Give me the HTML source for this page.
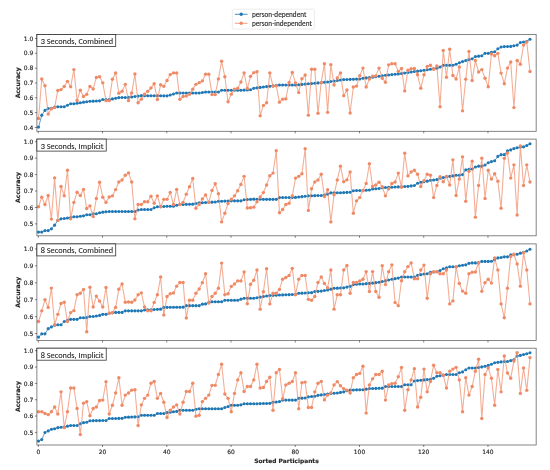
<!DOCTYPE html><html><head><meta charset="utf-8"><style>html,body{margin:0;padding:0;background:#fff;}svg{display:block;filter:blur(0.3px)}text{font-family:'DejaVu Sans', 'Liberation Sans', sans-serif;fill:#262626;stroke:#262626;stroke-width:0.15px}</style></head><body>
<svg width="550" height="470" viewBox="0 0 550 470">
<rect width="550" height="470" fill="#fff"/>
<clipPath id="c0"><rect x="36.89" y="34.4" width="499.27" height="96.9"/></clipPath>
<g clip-path="url(#c0)"><polyline points="38.55,127.11 41.76,115.17 44.97,110.41 48.19,108.46 51.4,108.23 54.61,107.15 57.82,106.72 61.03,106.72 64.25,106.72 67.46,105.19 70.67,103.68 73.88,103.68 77.09,103.25 80.31,102.82 83.52,102.17 86.73,101.72 89.94,101.29 93.15,101.15 96.37,101.01 99.58,100.86 102.79,99.56 106,99.56 109.21,99.56 112.43,98.91 115.64,98.25 118.85,97.6 122.06,97.54 125.27,97.47 128.49,97.39 131.7,96.96 134.91,96.52 138.12,96.09 141.33,95.66 144.55,95.66 147.76,95.69 150.97,95.72 154.18,95.75 157.39,95.78 160.61,95.81 163.82,95.84 167.03,95.87 170.24,94.93 173.45,94 176.67,93.05 179.88,93.05 183.09,93.05 186.3,93.05 189.51,93.05 192.73,93.05 195.94,93.05 199.15,93.05 202.36,92.51 205.57,91.97 208.79,91.97 212,91.97 215.21,91.97 218.42,91.97 221.63,90.23 224.85,90.23 228.06,90.23 231.27,90.23 234.48,90.23 237.69,90.23 240.91,90.23 244.12,90.08 247.33,89.93 250.54,89.8 253.75,88.27 256.97,87.84 260.18,87.41 263.39,86.98 266.6,86.58 269.81,86.2 273.03,85.81 276.24,85.41 279.45,85.03 282.66,85.03 285.87,85.03 289.09,85.03 292.3,85.03 295.51,85.03 298.72,84.71 301.93,84.42 305.15,84.11 308.36,83.81 311.57,83.5 314.78,83.22 317.99,82.92 321.21,82.64 324.42,82.31 327.63,81.98 330.84,81.48 334.05,80.98 337.27,80.47 340.48,80.03 343.69,79.6 346.9,79.46 350.11,79.35 353.33,79.21 356.54,79.08 359.75,78.94 362.96,78.29 366.17,77.92 369.39,77.54 372.6,77.17 375.81,76.78 379.02,76.28 382.23,75.77 385.45,75.25 388.66,74.94 391.87,74.61 395.08,74.24 398.29,73.89 401.51,73.52 404.72,73.01 407.93,72.51 411.14,72 414.35,71.57 417.57,71.14 420.78,70.7 423.99,70.27 427.2,69.78 430.41,69.29 433.63,68.8 436.84,68.31 440.05,67.02 443.26,65.27 446.47,65.27 449.69,65.27 452.9,65.27 456.11,64.19 459.32,62.68 462.53,61.59 465.75,60.51 468.96,59.64 472.17,58.78 475.38,56.6 478.59,56.17 481.81,55.74 485.02,53.35 488.23,53.35 491.44,52.27 494.65,51.82 497.87,48.8 501.08,47.06 504.29,46.62 507.5,46.51 510.71,46.41 513.93,45.76 517.14,45.1 520.35,42.49 523.56,42.06 526.77,41.41 529.99,39.24" fill="none" stroke="#1f77b4" stroke-width="1.0" stroke-opacity="0.7" stroke-linejoin="round"/>
<circle cx="38.55" cy="127.11" r="1.55" fill="#1f77b4"/>
<circle cx="41.76" cy="115.17" r="1.55" fill="#1f77b4"/>
<circle cx="44.97" cy="110.41" r="1.55" fill="#1f77b4"/>
<circle cx="48.19" cy="108.46" r="1.55" fill="#1f77b4"/>
<circle cx="51.4" cy="108.23" r="1.55" fill="#1f77b4"/>
<circle cx="54.61" cy="107.15" r="1.55" fill="#1f77b4"/>
<circle cx="57.82" cy="106.72" r="1.55" fill="#1f77b4"/>
<circle cx="61.03" cy="106.72" r="1.55" fill="#1f77b4"/>
<circle cx="64.25" cy="106.72" r="1.55" fill="#1f77b4"/>
<circle cx="67.46" cy="105.19" r="1.55" fill="#1f77b4"/>
<circle cx="70.67" cy="103.68" r="1.55" fill="#1f77b4"/>
<circle cx="73.88" cy="103.68" r="1.55" fill="#1f77b4"/>
<circle cx="77.09" cy="103.25" r="1.55" fill="#1f77b4"/>
<circle cx="80.31" cy="102.82" r="1.55" fill="#1f77b4"/>
<circle cx="83.52" cy="102.17" r="1.55" fill="#1f77b4"/>
<circle cx="86.73" cy="101.72" r="1.55" fill="#1f77b4"/>
<circle cx="89.94" cy="101.29" r="1.55" fill="#1f77b4"/>
<circle cx="93.15" cy="101.15" r="1.55" fill="#1f77b4"/>
<circle cx="96.37" cy="101.01" r="1.55" fill="#1f77b4"/>
<circle cx="99.58" cy="100.86" r="1.55" fill="#1f77b4"/>
<circle cx="102.79" cy="99.56" r="1.55" fill="#1f77b4"/>
<circle cx="106" cy="99.56" r="1.55" fill="#1f77b4"/>
<circle cx="109.21" cy="99.56" r="1.55" fill="#1f77b4"/>
<circle cx="112.43" cy="98.91" r="1.55" fill="#1f77b4"/>
<circle cx="115.64" cy="98.25" r="1.55" fill="#1f77b4"/>
<circle cx="118.85" cy="97.6" r="1.55" fill="#1f77b4"/>
<circle cx="122.06" cy="97.54" r="1.55" fill="#1f77b4"/>
<circle cx="125.27" cy="97.47" r="1.55" fill="#1f77b4"/>
<circle cx="128.49" cy="97.39" r="1.55" fill="#1f77b4"/>
<circle cx="131.7" cy="96.96" r="1.55" fill="#1f77b4"/>
<circle cx="134.91" cy="96.52" r="1.55" fill="#1f77b4"/>
<circle cx="138.12" cy="96.09" r="1.55" fill="#1f77b4"/>
<circle cx="141.33" cy="95.66" r="1.55" fill="#1f77b4"/>
<circle cx="144.55" cy="95.66" r="1.55" fill="#1f77b4"/>
<circle cx="147.76" cy="95.69" r="1.55" fill="#1f77b4"/>
<circle cx="150.97" cy="95.72" r="1.55" fill="#1f77b4"/>
<circle cx="154.18" cy="95.75" r="1.55" fill="#1f77b4"/>
<circle cx="157.39" cy="95.78" r="1.55" fill="#1f77b4"/>
<circle cx="160.61" cy="95.81" r="1.55" fill="#1f77b4"/>
<circle cx="163.82" cy="95.84" r="1.55" fill="#1f77b4"/>
<circle cx="167.03" cy="95.87" r="1.55" fill="#1f77b4"/>
<circle cx="170.24" cy="94.93" r="1.55" fill="#1f77b4"/>
<circle cx="173.45" cy="94" r="1.55" fill="#1f77b4"/>
<circle cx="176.67" cy="93.05" r="1.55" fill="#1f77b4"/>
<circle cx="179.88" cy="93.05" r="1.55" fill="#1f77b4"/>
<circle cx="183.09" cy="93.05" r="1.55" fill="#1f77b4"/>
<circle cx="186.3" cy="93.05" r="1.55" fill="#1f77b4"/>
<circle cx="189.51" cy="93.05" r="1.55" fill="#1f77b4"/>
<circle cx="192.73" cy="93.05" r="1.55" fill="#1f77b4"/>
<circle cx="195.94" cy="93.05" r="1.55" fill="#1f77b4"/>
<circle cx="199.15" cy="93.05" r="1.55" fill="#1f77b4"/>
<circle cx="202.36" cy="92.51" r="1.55" fill="#1f77b4"/>
<circle cx="205.57" cy="91.97" r="1.55" fill="#1f77b4"/>
<circle cx="208.79" cy="91.97" r="1.55" fill="#1f77b4"/>
<circle cx="212" cy="91.97" r="1.55" fill="#1f77b4"/>
<circle cx="215.21" cy="91.97" r="1.55" fill="#1f77b4"/>
<circle cx="218.42" cy="91.97" r="1.55" fill="#1f77b4"/>
<circle cx="221.63" cy="90.23" r="1.55" fill="#1f77b4"/>
<circle cx="224.85" cy="90.23" r="1.55" fill="#1f77b4"/>
<circle cx="228.06" cy="90.23" r="1.55" fill="#1f77b4"/>
<circle cx="231.27" cy="90.23" r="1.55" fill="#1f77b4"/>
<circle cx="234.48" cy="90.23" r="1.55" fill="#1f77b4"/>
<circle cx="237.69" cy="90.23" r="1.55" fill="#1f77b4"/>
<circle cx="240.91" cy="90.23" r="1.55" fill="#1f77b4"/>
<circle cx="244.12" cy="90.08" r="1.55" fill="#1f77b4"/>
<circle cx="247.33" cy="89.93" r="1.55" fill="#1f77b4"/>
<circle cx="250.54" cy="89.8" r="1.55" fill="#1f77b4"/>
<circle cx="253.75" cy="88.27" r="1.55" fill="#1f77b4"/>
<circle cx="256.97" cy="87.84" r="1.55" fill="#1f77b4"/>
<circle cx="260.18" cy="87.41" r="1.55" fill="#1f77b4"/>
<circle cx="263.39" cy="86.98" r="1.55" fill="#1f77b4"/>
<circle cx="266.6" cy="86.58" r="1.55" fill="#1f77b4"/>
<circle cx="269.81" cy="86.2" r="1.55" fill="#1f77b4"/>
<circle cx="273.03" cy="85.81" r="1.55" fill="#1f77b4"/>
<circle cx="276.24" cy="85.41" r="1.55" fill="#1f77b4"/>
<circle cx="279.45" cy="85.03" r="1.55" fill="#1f77b4"/>
<circle cx="282.66" cy="85.03" r="1.55" fill="#1f77b4"/>
<circle cx="285.87" cy="85.03" r="1.55" fill="#1f77b4"/>
<circle cx="289.09" cy="85.03" r="1.55" fill="#1f77b4"/>
<circle cx="292.3" cy="85.03" r="1.55" fill="#1f77b4"/>
<circle cx="295.51" cy="85.03" r="1.55" fill="#1f77b4"/>
<circle cx="298.72" cy="84.71" r="1.55" fill="#1f77b4"/>
<circle cx="301.93" cy="84.42" r="1.55" fill="#1f77b4"/>
<circle cx="305.15" cy="84.11" r="1.55" fill="#1f77b4"/>
<circle cx="308.36" cy="83.81" r="1.55" fill="#1f77b4"/>
<circle cx="311.57" cy="83.5" r="1.55" fill="#1f77b4"/>
<circle cx="314.78" cy="83.22" r="1.55" fill="#1f77b4"/>
<circle cx="317.99" cy="82.92" r="1.55" fill="#1f77b4"/>
<circle cx="321.21" cy="82.64" r="1.55" fill="#1f77b4"/>
<circle cx="324.42" cy="82.31" r="1.55" fill="#1f77b4"/>
<circle cx="327.63" cy="81.98" r="1.55" fill="#1f77b4"/>
<circle cx="330.84" cy="81.48" r="1.55" fill="#1f77b4"/>
<circle cx="334.05" cy="80.98" r="1.55" fill="#1f77b4"/>
<circle cx="337.27" cy="80.47" r="1.55" fill="#1f77b4"/>
<circle cx="340.48" cy="80.03" r="1.55" fill="#1f77b4"/>
<circle cx="343.69" cy="79.6" r="1.55" fill="#1f77b4"/>
<circle cx="346.9" cy="79.46" r="1.55" fill="#1f77b4"/>
<circle cx="350.11" cy="79.35" r="1.55" fill="#1f77b4"/>
<circle cx="353.33" cy="79.21" r="1.55" fill="#1f77b4"/>
<circle cx="356.54" cy="79.08" r="1.55" fill="#1f77b4"/>
<circle cx="359.75" cy="78.94" r="1.55" fill="#1f77b4"/>
<circle cx="362.96" cy="78.29" r="1.55" fill="#1f77b4"/>
<circle cx="366.17" cy="77.92" r="1.55" fill="#1f77b4"/>
<circle cx="369.39" cy="77.54" r="1.55" fill="#1f77b4"/>
<circle cx="372.6" cy="77.17" r="1.55" fill="#1f77b4"/>
<circle cx="375.81" cy="76.78" r="1.55" fill="#1f77b4"/>
<circle cx="379.02" cy="76.28" r="1.55" fill="#1f77b4"/>
<circle cx="382.23" cy="75.77" r="1.55" fill="#1f77b4"/>
<circle cx="385.45" cy="75.25" r="1.55" fill="#1f77b4"/>
<circle cx="388.66" cy="74.94" r="1.55" fill="#1f77b4"/>
<circle cx="391.87" cy="74.61" r="1.55" fill="#1f77b4"/>
<circle cx="395.08" cy="74.24" r="1.55" fill="#1f77b4"/>
<circle cx="398.29" cy="73.89" r="1.55" fill="#1f77b4"/>
<circle cx="401.51" cy="73.52" r="1.55" fill="#1f77b4"/>
<circle cx="404.72" cy="73.01" r="1.55" fill="#1f77b4"/>
<circle cx="407.93" cy="72.51" r="1.55" fill="#1f77b4"/>
<circle cx="411.14" cy="72" r="1.55" fill="#1f77b4"/>
<circle cx="414.35" cy="71.57" r="1.55" fill="#1f77b4"/>
<circle cx="417.57" cy="71.14" r="1.55" fill="#1f77b4"/>
<circle cx="420.78" cy="70.7" r="1.55" fill="#1f77b4"/>
<circle cx="423.99" cy="70.27" r="1.55" fill="#1f77b4"/>
<circle cx="427.2" cy="69.78" r="1.55" fill="#1f77b4"/>
<circle cx="430.41" cy="69.29" r="1.55" fill="#1f77b4"/>
<circle cx="433.63" cy="68.8" r="1.55" fill="#1f77b4"/>
<circle cx="436.84" cy="68.31" r="1.55" fill="#1f77b4"/>
<circle cx="440.05" cy="67.02" r="1.55" fill="#1f77b4"/>
<circle cx="443.26" cy="65.27" r="1.55" fill="#1f77b4"/>
<circle cx="446.47" cy="65.27" r="1.55" fill="#1f77b4"/>
<circle cx="449.69" cy="65.27" r="1.55" fill="#1f77b4"/>
<circle cx="452.9" cy="65.27" r="1.55" fill="#1f77b4"/>
<circle cx="456.11" cy="64.19" r="1.55" fill="#1f77b4"/>
<circle cx="459.32" cy="62.68" r="1.55" fill="#1f77b4"/>
<circle cx="462.53" cy="61.59" r="1.55" fill="#1f77b4"/>
<circle cx="465.75" cy="60.51" r="1.55" fill="#1f77b4"/>
<circle cx="468.96" cy="59.64" r="1.55" fill="#1f77b4"/>
<circle cx="472.17" cy="58.78" r="1.55" fill="#1f77b4"/>
<circle cx="475.38" cy="56.6" r="1.55" fill="#1f77b4"/>
<circle cx="478.59" cy="56.17" r="1.55" fill="#1f77b4"/>
<circle cx="481.81" cy="55.74" r="1.55" fill="#1f77b4"/>
<circle cx="485.02" cy="53.35" r="1.55" fill="#1f77b4"/>
<circle cx="488.23" cy="53.35" r="1.55" fill="#1f77b4"/>
<circle cx="491.44" cy="52.27" r="1.55" fill="#1f77b4"/>
<circle cx="494.65" cy="51.82" r="1.55" fill="#1f77b4"/>
<circle cx="497.87" cy="48.8" r="1.55" fill="#1f77b4"/>
<circle cx="501.08" cy="47.06" r="1.55" fill="#1f77b4"/>
<circle cx="504.29" cy="46.62" r="1.55" fill="#1f77b4"/>
<circle cx="507.5" cy="46.51" r="1.55" fill="#1f77b4"/>
<circle cx="510.71" cy="46.41" r="1.55" fill="#1f77b4"/>
<circle cx="513.93" cy="45.76" r="1.55" fill="#1f77b4"/>
<circle cx="517.14" cy="45.1" r="1.55" fill="#1f77b4"/>
<circle cx="520.35" cy="42.49" r="1.55" fill="#1f77b4"/>
<circle cx="523.56" cy="42.06" r="1.55" fill="#1f77b4"/>
<circle cx="526.77" cy="41.41" r="1.55" fill="#1f77b4"/>
<circle cx="529.99" cy="39.24" r="1.55" fill="#1f77b4"/>
</g>
<g clip-path="url(#c0)"><polyline points="38.55,118.44 41.76,78.94 44.97,85.68 48.19,114.09 51.4,108.68 54.61,107.37 57.82,90.45 61.03,89.58 64.25,86.54 67.46,81.33 70.67,86.76 73.88,69.62 77.09,100.43 80.31,90.23 83.52,96.52 86.73,94.35 89.94,86.54 93.15,88.93 96.37,77.43 99.58,76.78 102.79,82.86 106,100.64 109.21,100.64 112.43,79.17 115.64,72.88 118.85,93.27 122.06,91.31 125.27,84.37 128.49,100.64 131.7,93.05 134.91,73.96 138.12,102.82 141.33,99.13 144.55,94.13 147.76,91.31 150.97,88.07 154.18,83.72 157.39,99.56 160.61,84.8 163.82,86.33 167.03,80.47 170.24,74.61 173.45,72.88 176.67,72.88 179.88,99.34 183.09,96.52 186.3,96.09 189.51,94.35 192.73,89.15 195.94,84.37 199.15,82.64 202.36,80.9 205.57,74.17 208.79,74.17 212,94.58 215.21,94.58 218.42,78.94 221.63,61.16 224.85,76.78 228.06,101.72 231.27,94.13 234.48,89.15 237.69,88.27 240.91,81.98 244.12,72.88 247.33,88.5 250.54,76.35 253.75,72.66 256.97,71.78 260.18,115.83 263.39,105.42 266.6,102.82 269.81,72.88 273.03,86.33 276.24,85.68 279.45,102.17 282.66,99.13 285.87,98.91 289.09,82.42 292.3,72.43 295.51,82.86 298.72,92.62 301.93,78.74 305.15,75.04 308.36,115.17 311.57,69.19 314.78,69.19 317.99,113.23 321.21,82.42 324.42,63.76 327.63,112.36 330.84,64.63 334.05,85.03 337.27,77.86 340.48,72.88 343.69,95.66 346.9,90.01 350.11,113.01 353.33,86.98 356.54,86.11 359.75,75.7 362.96,68.1 366.17,86.98 369.39,78.94 372.6,76.13 375.81,75.9 379.02,68.1 382.23,78.29 385.45,82.21 388.66,64.84 391.87,63.76 395.08,63.76 398.29,71.35 401.51,68.53 404.72,90.88 407.93,70.27 411.14,68.76 414.35,68.53 417.57,74.82 420.78,88.27 423.99,74.82 427.2,66.37 430.41,65.27 433.63,69.19 436.84,65.92 440.05,106.72 443.26,50.53 446.47,77.21 449.69,49.23 452.9,75.47 456.11,78.94 459.32,67.02 462.53,110.84 465.75,79.17 468.96,51.39 472.17,80.47 475.38,60.51 478.59,72 481.81,69.62 485.02,78.29 488.23,86.76 491.44,54 494.65,55.74 497.87,53.35 501.08,73.09 504.29,83.72 507.5,68.1 510.71,62.02 513.93,107.58 517.14,60.51 520.35,64.19 523.56,45.1 526.77,42.06 529.99,71.57" fill="none" stroke="#ef8a66" stroke-width="1.1" stroke-opacity="0.7" stroke-linejoin="round"/>
<circle cx="38.55" cy="118.44" r="1.7" fill="#ef8a66"/>
<circle cx="41.76" cy="78.94" r="1.7" fill="#ef8a66"/>
<circle cx="44.97" cy="85.68" r="1.7" fill="#ef8a66"/>
<circle cx="48.19" cy="114.09" r="1.7" fill="#ef8a66"/>
<circle cx="51.4" cy="108.68" r="1.7" fill="#ef8a66"/>
<circle cx="54.61" cy="107.37" r="1.7" fill="#ef8a66"/>
<circle cx="57.82" cy="90.45" r="1.7" fill="#ef8a66"/>
<circle cx="61.03" cy="89.58" r="1.7" fill="#ef8a66"/>
<circle cx="64.25" cy="86.54" r="1.7" fill="#ef8a66"/>
<circle cx="67.46" cy="81.33" r="1.7" fill="#ef8a66"/>
<circle cx="70.67" cy="86.76" r="1.7" fill="#ef8a66"/>
<circle cx="73.88" cy="69.62" r="1.7" fill="#ef8a66"/>
<circle cx="77.09" cy="100.43" r="1.7" fill="#ef8a66"/>
<circle cx="80.31" cy="90.23" r="1.7" fill="#ef8a66"/>
<circle cx="83.52" cy="96.52" r="1.7" fill="#ef8a66"/>
<circle cx="86.73" cy="94.35" r="1.7" fill="#ef8a66"/>
<circle cx="89.94" cy="86.54" r="1.7" fill="#ef8a66"/>
<circle cx="93.15" cy="88.93" r="1.7" fill="#ef8a66"/>
<circle cx="96.37" cy="77.43" r="1.7" fill="#ef8a66"/>
<circle cx="99.58" cy="76.78" r="1.7" fill="#ef8a66"/>
<circle cx="102.79" cy="82.86" r="1.7" fill="#ef8a66"/>
<circle cx="106" cy="100.64" r="1.7" fill="#ef8a66"/>
<circle cx="109.21" cy="100.64" r="1.7" fill="#ef8a66"/>
<circle cx="112.43" cy="79.17" r="1.7" fill="#ef8a66"/>
<circle cx="115.64" cy="72.88" r="1.7" fill="#ef8a66"/>
<circle cx="118.85" cy="93.27" r="1.7" fill="#ef8a66"/>
<circle cx="122.06" cy="91.31" r="1.7" fill="#ef8a66"/>
<circle cx="125.27" cy="84.37" r="1.7" fill="#ef8a66"/>
<circle cx="128.49" cy="100.64" r="1.7" fill="#ef8a66"/>
<circle cx="131.7" cy="93.05" r="1.7" fill="#ef8a66"/>
<circle cx="134.91" cy="73.96" r="1.7" fill="#ef8a66"/>
<circle cx="138.12" cy="102.82" r="1.7" fill="#ef8a66"/>
<circle cx="141.33" cy="99.13" r="1.7" fill="#ef8a66"/>
<circle cx="144.55" cy="94.13" r="1.7" fill="#ef8a66"/>
<circle cx="147.76" cy="91.31" r="1.7" fill="#ef8a66"/>
<circle cx="150.97" cy="88.07" r="1.7" fill="#ef8a66"/>
<circle cx="154.18" cy="83.72" r="1.7" fill="#ef8a66"/>
<circle cx="157.39" cy="99.56" r="1.7" fill="#ef8a66"/>
<circle cx="160.61" cy="84.8" r="1.7" fill="#ef8a66"/>
<circle cx="163.82" cy="86.33" r="1.7" fill="#ef8a66"/>
<circle cx="167.03" cy="80.47" r="1.7" fill="#ef8a66"/>
<circle cx="170.24" cy="74.61" r="1.7" fill="#ef8a66"/>
<circle cx="173.45" cy="72.88" r="1.7" fill="#ef8a66"/>
<circle cx="176.67" cy="72.88" r="1.7" fill="#ef8a66"/>
<circle cx="179.88" cy="99.34" r="1.7" fill="#ef8a66"/>
<circle cx="183.09" cy="96.52" r="1.7" fill="#ef8a66"/>
<circle cx="186.3" cy="96.09" r="1.7" fill="#ef8a66"/>
<circle cx="189.51" cy="94.35" r="1.7" fill="#ef8a66"/>
<circle cx="192.73" cy="89.15" r="1.7" fill="#ef8a66"/>
<circle cx="195.94" cy="84.37" r="1.7" fill="#ef8a66"/>
<circle cx="199.15" cy="82.64" r="1.7" fill="#ef8a66"/>
<circle cx="202.36" cy="80.9" r="1.7" fill="#ef8a66"/>
<circle cx="205.57" cy="74.17" r="1.7" fill="#ef8a66"/>
<circle cx="208.79" cy="74.17" r="1.7" fill="#ef8a66"/>
<circle cx="212" cy="94.58" r="1.7" fill="#ef8a66"/>
<circle cx="215.21" cy="94.58" r="1.7" fill="#ef8a66"/>
<circle cx="218.42" cy="78.94" r="1.7" fill="#ef8a66"/>
<circle cx="221.63" cy="61.16" r="1.7" fill="#ef8a66"/>
<circle cx="224.85" cy="76.78" r="1.7" fill="#ef8a66"/>
<circle cx="228.06" cy="101.72" r="1.7" fill="#ef8a66"/>
<circle cx="231.27" cy="94.13" r="1.7" fill="#ef8a66"/>
<circle cx="234.48" cy="89.15" r="1.7" fill="#ef8a66"/>
<circle cx="237.69" cy="88.27" r="1.7" fill="#ef8a66"/>
<circle cx="240.91" cy="81.98" r="1.7" fill="#ef8a66"/>
<circle cx="244.12" cy="72.88" r="1.7" fill="#ef8a66"/>
<circle cx="247.33" cy="88.5" r="1.7" fill="#ef8a66"/>
<circle cx="250.54" cy="76.35" r="1.7" fill="#ef8a66"/>
<circle cx="253.75" cy="72.66" r="1.7" fill="#ef8a66"/>
<circle cx="256.97" cy="71.78" r="1.7" fill="#ef8a66"/>
<circle cx="260.18" cy="115.83" r="1.7" fill="#ef8a66"/>
<circle cx="263.39" cy="105.42" r="1.7" fill="#ef8a66"/>
<circle cx="266.6" cy="102.82" r="1.7" fill="#ef8a66"/>
<circle cx="269.81" cy="72.88" r="1.7" fill="#ef8a66"/>
<circle cx="273.03" cy="86.33" r="1.7" fill="#ef8a66"/>
<circle cx="276.24" cy="85.68" r="1.7" fill="#ef8a66"/>
<circle cx="279.45" cy="102.17" r="1.7" fill="#ef8a66"/>
<circle cx="282.66" cy="99.13" r="1.7" fill="#ef8a66"/>
<circle cx="285.87" cy="98.91" r="1.7" fill="#ef8a66"/>
<circle cx="289.09" cy="82.42" r="1.7" fill="#ef8a66"/>
<circle cx="292.3" cy="72.43" r="1.7" fill="#ef8a66"/>
<circle cx="295.51" cy="82.86" r="1.7" fill="#ef8a66"/>
<circle cx="298.72" cy="92.62" r="1.7" fill="#ef8a66"/>
<circle cx="301.93" cy="78.74" r="1.7" fill="#ef8a66"/>
<circle cx="305.15" cy="75.04" r="1.7" fill="#ef8a66"/>
<circle cx="308.36" cy="115.17" r="1.7" fill="#ef8a66"/>
<circle cx="311.57" cy="69.19" r="1.7" fill="#ef8a66"/>
<circle cx="314.78" cy="69.19" r="1.7" fill="#ef8a66"/>
<circle cx="317.99" cy="113.23" r="1.7" fill="#ef8a66"/>
<circle cx="321.21" cy="82.42" r="1.7" fill="#ef8a66"/>
<circle cx="324.42" cy="63.76" r="1.7" fill="#ef8a66"/>
<circle cx="327.63" cy="112.36" r="1.7" fill="#ef8a66"/>
<circle cx="330.84" cy="64.63" r="1.7" fill="#ef8a66"/>
<circle cx="334.05" cy="85.03" r="1.7" fill="#ef8a66"/>
<circle cx="337.27" cy="77.86" r="1.7" fill="#ef8a66"/>
<circle cx="340.48" cy="72.88" r="1.7" fill="#ef8a66"/>
<circle cx="343.69" cy="95.66" r="1.7" fill="#ef8a66"/>
<circle cx="346.9" cy="90.01" r="1.7" fill="#ef8a66"/>
<circle cx="350.11" cy="113.01" r="1.7" fill="#ef8a66"/>
<circle cx="353.33" cy="86.98" r="1.7" fill="#ef8a66"/>
<circle cx="356.54" cy="86.11" r="1.7" fill="#ef8a66"/>
<circle cx="359.75" cy="75.7" r="1.7" fill="#ef8a66"/>
<circle cx="362.96" cy="68.1" r="1.7" fill="#ef8a66"/>
<circle cx="366.17" cy="86.98" r="1.7" fill="#ef8a66"/>
<circle cx="369.39" cy="78.94" r="1.7" fill="#ef8a66"/>
<circle cx="372.6" cy="76.13" r="1.7" fill="#ef8a66"/>
<circle cx="375.81" cy="75.9" r="1.7" fill="#ef8a66"/>
<circle cx="379.02" cy="68.1" r="1.7" fill="#ef8a66"/>
<circle cx="382.23" cy="78.29" r="1.7" fill="#ef8a66"/>
<circle cx="385.45" cy="82.21" r="1.7" fill="#ef8a66"/>
<circle cx="388.66" cy="64.84" r="1.7" fill="#ef8a66"/>
<circle cx="391.87" cy="63.76" r="1.7" fill="#ef8a66"/>
<circle cx="395.08" cy="63.76" r="1.7" fill="#ef8a66"/>
<circle cx="398.29" cy="71.35" r="1.7" fill="#ef8a66"/>
<circle cx="401.51" cy="68.53" r="1.7" fill="#ef8a66"/>
<circle cx="404.72" cy="90.88" r="1.7" fill="#ef8a66"/>
<circle cx="407.93" cy="70.27" r="1.7" fill="#ef8a66"/>
<circle cx="411.14" cy="68.76" r="1.7" fill="#ef8a66"/>
<circle cx="414.35" cy="68.53" r="1.7" fill="#ef8a66"/>
<circle cx="417.57" cy="74.82" r="1.7" fill="#ef8a66"/>
<circle cx="420.78" cy="88.27" r="1.7" fill="#ef8a66"/>
<circle cx="423.99" cy="74.82" r="1.7" fill="#ef8a66"/>
<circle cx="427.2" cy="66.37" r="1.7" fill="#ef8a66"/>
<circle cx="430.41" cy="65.27" r="1.7" fill="#ef8a66"/>
<circle cx="433.63" cy="69.19" r="1.7" fill="#ef8a66"/>
<circle cx="436.84" cy="65.92" r="1.7" fill="#ef8a66"/>
<circle cx="440.05" cy="106.72" r="1.7" fill="#ef8a66"/>
<circle cx="443.26" cy="50.53" r="1.7" fill="#ef8a66"/>
<circle cx="446.47" cy="77.21" r="1.7" fill="#ef8a66"/>
<circle cx="449.69" cy="49.23" r="1.7" fill="#ef8a66"/>
<circle cx="452.9" cy="75.47" r="1.7" fill="#ef8a66"/>
<circle cx="456.11" cy="78.94" r="1.7" fill="#ef8a66"/>
<circle cx="459.32" cy="67.02" r="1.7" fill="#ef8a66"/>
<circle cx="462.53" cy="110.84" r="1.7" fill="#ef8a66"/>
<circle cx="465.75" cy="79.17" r="1.7" fill="#ef8a66"/>
<circle cx="468.96" cy="51.39" r="1.7" fill="#ef8a66"/>
<circle cx="472.17" cy="80.47" r="1.7" fill="#ef8a66"/>
<circle cx="475.38" cy="60.51" r="1.7" fill="#ef8a66"/>
<circle cx="478.59" cy="72" r="1.7" fill="#ef8a66"/>
<circle cx="481.81" cy="69.62" r="1.7" fill="#ef8a66"/>
<circle cx="485.02" cy="78.29" r="1.7" fill="#ef8a66"/>
<circle cx="488.23" cy="86.76" r="1.7" fill="#ef8a66"/>
<circle cx="491.44" cy="54" r="1.7" fill="#ef8a66"/>
<circle cx="494.65" cy="55.74" r="1.7" fill="#ef8a66"/>
<circle cx="497.87" cy="53.35" r="1.7" fill="#ef8a66"/>
<circle cx="501.08" cy="73.09" r="1.7" fill="#ef8a66"/>
<circle cx="504.29" cy="83.72" r="1.7" fill="#ef8a66"/>
<circle cx="507.5" cy="68.1" r="1.7" fill="#ef8a66"/>
<circle cx="510.71" cy="62.02" r="1.7" fill="#ef8a66"/>
<circle cx="513.93" cy="107.58" r="1.7" fill="#ef8a66"/>
<circle cx="517.14" cy="60.51" r="1.7" fill="#ef8a66"/>
<circle cx="520.35" cy="64.19" r="1.7" fill="#ef8a66"/>
<circle cx="523.56" cy="45.1" r="1.7" fill="#ef8a66"/>
<circle cx="526.77" cy="42.06" r="1.7" fill="#ef8a66"/>
<circle cx="529.99" cy="71.57" r="1.7" fill="#ef8a66"/>
</g>
<rect x="36.89" y="34.4" width="499.27" height="96.9" fill="none" stroke="#000" stroke-opacity="0.6" stroke-width="0.8"/>
<line x1="34.89" x2="36.89" y1="127.48" y2="127.48" stroke="#000" stroke-opacity="0.6" stroke-width="0.8"/>
<text x="33.39" y="129.63" font-size="6.0" text-anchor="end">0.4</text>
<line x1="34.89" x2="36.89" y1="112.65" y2="112.65" stroke="#000" stroke-opacity="0.6" stroke-width="0.8"/>
<text x="33.39" y="114.8" font-size="6.0" text-anchor="end">0.5</text>
<line x1="34.89" x2="36.89" y1="97.82" y2="97.82" stroke="#000" stroke-opacity="0.6" stroke-width="0.8"/>
<text x="33.39" y="99.97" font-size="6.0" text-anchor="end">0.6</text>
<line x1="34.89" x2="36.89" y1="82.99" y2="82.99" stroke="#000" stroke-opacity="0.6" stroke-width="0.8"/>
<text x="33.39" y="85.14" font-size="6.0" text-anchor="end">0.7</text>
<line x1="34.89" x2="36.89" y1="68.16" y2="68.16" stroke="#000" stroke-opacity="0.6" stroke-width="0.8"/>
<text x="33.39" y="70.31" font-size="6.0" text-anchor="end">0.8</text>
<line x1="34.89" x2="36.89" y1="53.33" y2="53.33" stroke="#000" stroke-opacity="0.6" stroke-width="0.8"/>
<text x="33.39" y="55.48" font-size="6.0" text-anchor="end">0.9</text>
<line x1="34.89" x2="36.89" y1="38.5" y2="38.5" stroke="#000" stroke-opacity="0.6" stroke-width="0.8"/>
<text x="33.39" y="40.65" font-size="6.0" text-anchor="end">1.0</text>
<line x1="38.3" x2="38.3" y1="131.3" y2="133.3" stroke="#000" stroke-opacity="0.6" stroke-width="0.8"/>
<line x1="102.54" x2="102.54" y1="131.3" y2="133.3" stroke="#000" stroke-opacity="0.6" stroke-width="0.8"/>
<line x1="166.78" x2="166.78" y1="131.3" y2="133.3" stroke="#000" stroke-opacity="0.6" stroke-width="0.8"/>
<line x1="231.02" x2="231.02" y1="131.3" y2="133.3" stroke="#000" stroke-opacity="0.6" stroke-width="0.8"/>
<line x1="295.26" x2="295.26" y1="131.3" y2="133.3" stroke="#000" stroke-opacity="0.6" stroke-width="0.8"/>
<line x1="359.5" x2="359.5" y1="131.3" y2="133.3" stroke="#000" stroke-opacity="0.6" stroke-width="0.8"/>
<line x1="423.74" x2="423.74" y1="131.3" y2="133.3" stroke="#000" stroke-opacity="0.6" stroke-width="0.8"/>
<line x1="487.98" x2="487.98" y1="131.3" y2="133.3" stroke="#000" stroke-opacity="0.6" stroke-width="0.8"/>
<text transform="translate(20.3,82.85) rotate(-90)" font-size="6.1" font-weight="bold" text-anchor="middle">Accuracy</text>
<rect x="36.89" y="34.4" width="78.82" height="12" fill="#fff" stroke="#000" stroke-opacity="0.8" stroke-width="0.8"/>
<text transform="translate(40.69,43.9) scale(1,1.05)" font-size="8.3" textLength="72.32" lengthAdjust="spacingAndGlyphs" style="font-family:Carlito,'Liberation Sans',sans-serif;stroke-width:0.08px">3 Seconds, Combined</text>
<clipPath id="c1"><rect x="36.89" y="139.1" width="499.27" height="96.7"/></clipPath>
<g clip-path="url(#c1)"><polyline points="38.55,232.11 41.76,232.11 44.97,230.6 48.19,230.6 51.4,228.85 54.61,225.17 57.82,220.4 61.03,218.87 64.25,218.45 67.46,218.02 70.67,217.57 73.88,216.7 77.09,216.7 80.31,216.28 83.52,215.85 86.73,214.76 89.94,214.76 93.15,213.68 96.37,213.68 99.58,212.81 102.79,212.15 106,211.72 109.21,211.51 112.43,211.51 115.64,211.51 118.85,211.51 122.06,211.51 125.27,211.51 128.49,211.51 131.7,211.51 134.91,211.51 138.12,209.98 141.33,209.55 144.55,209.55 147.76,209.55 150.97,209.55 154.18,207.81 157.39,206.72 160.61,206.59 163.82,206.44 167.03,206.3 170.24,206.3 173.45,206.3 176.67,205.21 179.88,204.55 183.09,204.46 186.3,204.34 189.51,204.24 192.73,204.13 195.94,203.47 199.15,202.83 202.36,202.68 205.57,202.53 208.79,202.38 212,202.17 215.21,201.96 218.42,201.3 221.63,201.2 224.85,201.09 228.06,200.99 231.27,200.87 234.48,200.87 237.69,200.87 240.91,200.87 244.12,199.79 247.33,199.57 250.54,199.36 253.75,199.13 256.97,199.21 260.18,199.28 263.39,199.36 266.6,199.36 269.81,199.36 273.03,199.36 276.24,199.36 279.45,197.62 282.66,197.57 285.87,197.53 289.09,197.49 292.3,197.44 295.51,197.4 298.72,197.02 301.93,196.65 305.15,196.27 308.36,195.87 311.57,195.78 314.78,195.66 317.99,195.56 321.21,195.45 324.42,195.02 327.63,194.15 330.84,192.85 334.05,192.78 337.27,192.73 340.48,192.68 343.69,192.62 346.9,192.41 350.11,192.19 353.33,190.68 356.54,190.56 359.75,190.45 362.96,190.45 366.17,190.23 369.39,190.02 372.6,188.94 375.81,188.72 379.02,188.51 382.23,187.64 385.45,187.49 388.66,187.34 391.87,187.21 395.08,187.06 398.29,186.91 401.51,186.77 404.72,186.55 407.93,186.34 411.14,185.89 414.35,185.47 417.57,183.3 420.78,182.21 423.99,181.78 427.2,181.13 430.41,180.26 433.63,180.04 436.84,179.61 440.05,178.09 443.26,177.44 446.47,176.79 449.69,176.36 452.9,175.92 456.11,175.27 459.32,175.27 462.53,174.62 465.75,169.85 468.96,169.41 472.17,168.98 475.38,167.02 478.59,166.15 481.81,166.15 485.02,165.07 488.23,162.68 491.44,161.6 494.65,160.73 497.87,156.38 501.08,154.66 504.29,154.66 507.5,150.75 510.71,149.89 513.93,148.58 517.14,147.72 520.35,147.06 523.56,146.85 526.77,145.55 529.99,143.81" fill="none" stroke="#1f77b4" stroke-width="1.0" stroke-opacity="0.7" stroke-linejoin="round"/>
<circle cx="38.55" cy="232.11" r="1.55" fill="#1f77b4"/>
<circle cx="41.76" cy="232.11" r="1.55" fill="#1f77b4"/>
<circle cx="44.97" cy="230.6" r="1.55" fill="#1f77b4"/>
<circle cx="48.19" cy="230.6" r="1.55" fill="#1f77b4"/>
<circle cx="51.4" cy="228.85" r="1.55" fill="#1f77b4"/>
<circle cx="54.61" cy="225.17" r="1.55" fill="#1f77b4"/>
<circle cx="57.82" cy="220.4" r="1.55" fill="#1f77b4"/>
<circle cx="61.03" cy="218.87" r="1.55" fill="#1f77b4"/>
<circle cx="64.25" cy="218.45" r="1.55" fill="#1f77b4"/>
<circle cx="67.46" cy="218.02" r="1.55" fill="#1f77b4"/>
<circle cx="70.67" cy="217.57" r="1.55" fill="#1f77b4"/>
<circle cx="73.88" cy="216.7" r="1.55" fill="#1f77b4"/>
<circle cx="77.09" cy="216.7" r="1.55" fill="#1f77b4"/>
<circle cx="80.31" cy="216.28" r="1.55" fill="#1f77b4"/>
<circle cx="83.52" cy="215.85" r="1.55" fill="#1f77b4"/>
<circle cx="86.73" cy="214.76" r="1.55" fill="#1f77b4"/>
<circle cx="89.94" cy="214.76" r="1.55" fill="#1f77b4"/>
<circle cx="93.15" cy="213.68" r="1.55" fill="#1f77b4"/>
<circle cx="96.37" cy="213.68" r="1.55" fill="#1f77b4"/>
<circle cx="99.58" cy="212.81" r="1.55" fill="#1f77b4"/>
<circle cx="102.79" cy="212.15" r="1.55" fill="#1f77b4"/>
<circle cx="106" cy="211.72" r="1.55" fill="#1f77b4"/>
<circle cx="109.21" cy="211.51" r="1.55" fill="#1f77b4"/>
<circle cx="112.43" cy="211.51" r="1.55" fill="#1f77b4"/>
<circle cx="115.64" cy="211.51" r="1.55" fill="#1f77b4"/>
<circle cx="118.85" cy="211.51" r="1.55" fill="#1f77b4"/>
<circle cx="122.06" cy="211.51" r="1.55" fill="#1f77b4"/>
<circle cx="125.27" cy="211.51" r="1.55" fill="#1f77b4"/>
<circle cx="128.49" cy="211.51" r="1.55" fill="#1f77b4"/>
<circle cx="131.7" cy="211.51" r="1.55" fill="#1f77b4"/>
<circle cx="134.91" cy="211.51" r="1.55" fill="#1f77b4"/>
<circle cx="138.12" cy="209.98" r="1.55" fill="#1f77b4"/>
<circle cx="141.33" cy="209.55" r="1.55" fill="#1f77b4"/>
<circle cx="144.55" cy="209.55" r="1.55" fill="#1f77b4"/>
<circle cx="147.76" cy="209.55" r="1.55" fill="#1f77b4"/>
<circle cx="150.97" cy="209.55" r="1.55" fill="#1f77b4"/>
<circle cx="154.18" cy="207.81" r="1.55" fill="#1f77b4"/>
<circle cx="157.39" cy="206.72" r="1.55" fill="#1f77b4"/>
<circle cx="160.61" cy="206.59" r="1.55" fill="#1f77b4"/>
<circle cx="163.82" cy="206.44" r="1.55" fill="#1f77b4"/>
<circle cx="167.03" cy="206.3" r="1.55" fill="#1f77b4"/>
<circle cx="170.24" cy="206.3" r="1.55" fill="#1f77b4"/>
<circle cx="173.45" cy="206.3" r="1.55" fill="#1f77b4"/>
<circle cx="176.67" cy="205.21" r="1.55" fill="#1f77b4"/>
<circle cx="179.88" cy="204.55" r="1.55" fill="#1f77b4"/>
<circle cx="183.09" cy="204.46" r="1.55" fill="#1f77b4"/>
<circle cx="186.3" cy="204.34" r="1.55" fill="#1f77b4"/>
<circle cx="189.51" cy="204.24" r="1.55" fill="#1f77b4"/>
<circle cx="192.73" cy="204.13" r="1.55" fill="#1f77b4"/>
<circle cx="195.94" cy="203.47" r="1.55" fill="#1f77b4"/>
<circle cx="199.15" cy="202.83" r="1.55" fill="#1f77b4"/>
<circle cx="202.36" cy="202.68" r="1.55" fill="#1f77b4"/>
<circle cx="205.57" cy="202.53" r="1.55" fill="#1f77b4"/>
<circle cx="208.79" cy="202.38" r="1.55" fill="#1f77b4"/>
<circle cx="212" cy="202.17" r="1.55" fill="#1f77b4"/>
<circle cx="215.21" cy="201.96" r="1.55" fill="#1f77b4"/>
<circle cx="218.42" cy="201.3" r="1.55" fill="#1f77b4"/>
<circle cx="221.63" cy="201.2" r="1.55" fill="#1f77b4"/>
<circle cx="224.85" cy="201.09" r="1.55" fill="#1f77b4"/>
<circle cx="228.06" cy="200.99" r="1.55" fill="#1f77b4"/>
<circle cx="231.27" cy="200.87" r="1.55" fill="#1f77b4"/>
<circle cx="234.48" cy="200.87" r="1.55" fill="#1f77b4"/>
<circle cx="237.69" cy="200.87" r="1.55" fill="#1f77b4"/>
<circle cx="240.91" cy="200.87" r="1.55" fill="#1f77b4"/>
<circle cx="244.12" cy="199.79" r="1.55" fill="#1f77b4"/>
<circle cx="247.33" cy="199.57" r="1.55" fill="#1f77b4"/>
<circle cx="250.54" cy="199.36" r="1.55" fill="#1f77b4"/>
<circle cx="253.75" cy="199.13" r="1.55" fill="#1f77b4"/>
<circle cx="256.97" cy="199.21" r="1.55" fill="#1f77b4"/>
<circle cx="260.18" cy="199.28" r="1.55" fill="#1f77b4"/>
<circle cx="263.39" cy="199.36" r="1.55" fill="#1f77b4"/>
<circle cx="266.6" cy="199.36" r="1.55" fill="#1f77b4"/>
<circle cx="269.81" cy="199.36" r="1.55" fill="#1f77b4"/>
<circle cx="273.03" cy="199.36" r="1.55" fill="#1f77b4"/>
<circle cx="276.24" cy="199.36" r="1.55" fill="#1f77b4"/>
<circle cx="279.45" cy="197.62" r="1.55" fill="#1f77b4"/>
<circle cx="282.66" cy="197.57" r="1.55" fill="#1f77b4"/>
<circle cx="285.87" cy="197.53" r="1.55" fill="#1f77b4"/>
<circle cx="289.09" cy="197.49" r="1.55" fill="#1f77b4"/>
<circle cx="292.3" cy="197.44" r="1.55" fill="#1f77b4"/>
<circle cx="295.51" cy="197.4" r="1.55" fill="#1f77b4"/>
<circle cx="298.72" cy="197.02" r="1.55" fill="#1f77b4"/>
<circle cx="301.93" cy="196.65" r="1.55" fill="#1f77b4"/>
<circle cx="305.15" cy="196.27" r="1.55" fill="#1f77b4"/>
<circle cx="308.36" cy="195.87" r="1.55" fill="#1f77b4"/>
<circle cx="311.57" cy="195.78" r="1.55" fill="#1f77b4"/>
<circle cx="314.78" cy="195.66" r="1.55" fill="#1f77b4"/>
<circle cx="317.99" cy="195.56" r="1.55" fill="#1f77b4"/>
<circle cx="321.21" cy="195.45" r="1.55" fill="#1f77b4"/>
<circle cx="324.42" cy="195.02" r="1.55" fill="#1f77b4"/>
<circle cx="327.63" cy="194.15" r="1.55" fill="#1f77b4"/>
<circle cx="330.84" cy="192.85" r="1.55" fill="#1f77b4"/>
<circle cx="334.05" cy="192.78" r="1.55" fill="#1f77b4"/>
<circle cx="337.27" cy="192.73" r="1.55" fill="#1f77b4"/>
<circle cx="340.48" cy="192.68" r="1.55" fill="#1f77b4"/>
<circle cx="343.69" cy="192.62" r="1.55" fill="#1f77b4"/>
<circle cx="346.9" cy="192.41" r="1.55" fill="#1f77b4"/>
<circle cx="350.11" cy="192.19" r="1.55" fill="#1f77b4"/>
<circle cx="353.33" cy="190.68" r="1.55" fill="#1f77b4"/>
<circle cx="356.54" cy="190.56" r="1.55" fill="#1f77b4"/>
<circle cx="359.75" cy="190.45" r="1.55" fill="#1f77b4"/>
<circle cx="362.96" cy="190.45" r="1.55" fill="#1f77b4"/>
<circle cx="366.17" cy="190.23" r="1.55" fill="#1f77b4"/>
<circle cx="369.39" cy="190.02" r="1.55" fill="#1f77b4"/>
<circle cx="372.6" cy="188.94" r="1.55" fill="#1f77b4"/>
<circle cx="375.81" cy="188.72" r="1.55" fill="#1f77b4"/>
<circle cx="379.02" cy="188.51" r="1.55" fill="#1f77b4"/>
<circle cx="382.23" cy="187.64" r="1.55" fill="#1f77b4"/>
<circle cx="385.45" cy="187.49" r="1.55" fill="#1f77b4"/>
<circle cx="388.66" cy="187.34" r="1.55" fill="#1f77b4"/>
<circle cx="391.87" cy="187.21" r="1.55" fill="#1f77b4"/>
<circle cx="395.08" cy="187.06" r="1.55" fill="#1f77b4"/>
<circle cx="398.29" cy="186.91" r="1.55" fill="#1f77b4"/>
<circle cx="401.51" cy="186.77" r="1.55" fill="#1f77b4"/>
<circle cx="404.72" cy="186.55" r="1.55" fill="#1f77b4"/>
<circle cx="407.93" cy="186.34" r="1.55" fill="#1f77b4"/>
<circle cx="411.14" cy="185.89" r="1.55" fill="#1f77b4"/>
<circle cx="414.35" cy="185.47" r="1.55" fill="#1f77b4"/>
<circle cx="417.57" cy="183.3" r="1.55" fill="#1f77b4"/>
<circle cx="420.78" cy="182.21" r="1.55" fill="#1f77b4"/>
<circle cx="423.99" cy="181.78" r="1.55" fill="#1f77b4"/>
<circle cx="427.2" cy="181.13" r="1.55" fill="#1f77b4"/>
<circle cx="430.41" cy="180.26" r="1.55" fill="#1f77b4"/>
<circle cx="433.63" cy="180.04" r="1.55" fill="#1f77b4"/>
<circle cx="436.84" cy="179.61" r="1.55" fill="#1f77b4"/>
<circle cx="440.05" cy="178.09" r="1.55" fill="#1f77b4"/>
<circle cx="443.26" cy="177.44" r="1.55" fill="#1f77b4"/>
<circle cx="446.47" cy="176.79" r="1.55" fill="#1f77b4"/>
<circle cx="449.69" cy="176.36" r="1.55" fill="#1f77b4"/>
<circle cx="452.9" cy="175.92" r="1.55" fill="#1f77b4"/>
<circle cx="456.11" cy="175.27" r="1.55" fill="#1f77b4"/>
<circle cx="459.32" cy="175.27" r="1.55" fill="#1f77b4"/>
<circle cx="462.53" cy="174.62" r="1.55" fill="#1f77b4"/>
<circle cx="465.75" cy="169.85" r="1.55" fill="#1f77b4"/>
<circle cx="468.96" cy="169.41" r="1.55" fill="#1f77b4"/>
<circle cx="472.17" cy="168.98" r="1.55" fill="#1f77b4"/>
<circle cx="475.38" cy="167.02" r="1.55" fill="#1f77b4"/>
<circle cx="478.59" cy="166.15" r="1.55" fill="#1f77b4"/>
<circle cx="481.81" cy="166.15" r="1.55" fill="#1f77b4"/>
<circle cx="485.02" cy="165.07" r="1.55" fill="#1f77b4"/>
<circle cx="488.23" cy="162.68" r="1.55" fill="#1f77b4"/>
<circle cx="491.44" cy="161.6" r="1.55" fill="#1f77b4"/>
<circle cx="494.65" cy="160.73" r="1.55" fill="#1f77b4"/>
<circle cx="497.87" cy="156.38" r="1.55" fill="#1f77b4"/>
<circle cx="501.08" cy="154.66" r="1.55" fill="#1f77b4"/>
<circle cx="504.29" cy="154.66" r="1.55" fill="#1f77b4"/>
<circle cx="507.5" cy="150.75" r="1.55" fill="#1f77b4"/>
<circle cx="510.71" cy="149.89" r="1.55" fill="#1f77b4"/>
<circle cx="513.93" cy="148.58" r="1.55" fill="#1f77b4"/>
<circle cx="517.14" cy="147.72" r="1.55" fill="#1f77b4"/>
<circle cx="520.35" cy="147.06" r="1.55" fill="#1f77b4"/>
<circle cx="523.56" cy="146.85" r="1.55" fill="#1f77b4"/>
<circle cx="526.77" cy="145.55" r="1.55" fill="#1f77b4"/>
<circle cx="529.99" cy="143.81" r="1.55" fill="#1f77b4"/>
</g>
<g clip-path="url(#c1)"><polyline points="38.55,206.72 41.76,197.19 44.97,204.55 48.19,195.45 51.4,219.1 54.61,177.87 57.82,220.4 61.03,186.55 64.25,195.87 67.46,170.28 70.67,218.87 73.88,202.38 77.09,192.19 80.31,195.45 83.52,189.38 86.73,208.47 89.94,205.87 93.15,216.49 96.37,198.49 99.58,182.21 102.79,197.19 106,202.38 109.21,196.96 112.43,195.87 115.64,189.59 118.85,182 122.06,180.04 125.27,175.27 128.49,172.89 131.7,182 134.91,218.87 138.12,204.55 141.33,204.55 144.55,201.74 147.76,201.74 150.97,196.32 154.18,203.26 157.39,195.87 160.61,206.72 163.82,199.36 167.03,199.36 170.24,192.41 173.45,204.55 176.67,189.38 179.88,204.55 183.09,202.38 186.3,194.15 189.51,186.77 192.73,178.53 195.94,208.25 199.15,204.55 202.36,198.92 205.57,195.02 208.79,202.38 212,190.45 215.21,183.72 218.42,193.7 221.63,221.91 224.85,213.23 228.06,203.47 231.27,199.13 234.48,195.87 237.69,190.68 240.91,184.38 244.12,176.36 247.33,208.02 250.54,207.81 253.75,207.17 256.97,201.74 260.18,196.96 263.39,192.62 266.6,185.04 269.81,175.7 273.03,173.1 276.24,150.75 279.45,212.81 282.66,209.55 285.87,204.55 289.09,203.26 292.3,195.87 295.51,178.09 298.72,176.36 301.93,173.75 305.15,148.81 308.36,210.42 311.57,188.72 314.78,182 317.99,180.04 321.21,174.19 324.42,196.53 327.63,189.81 330.84,221.91 334.05,194.79 337.27,180.04 340.48,166.15 343.69,181.78 346.9,179.83 350.11,172.02 353.33,213.23 356.54,200.87 359.75,197.62 362.96,190.45 366.17,183.51 369.39,163.77 372.6,186.55 375.81,185.04 379.02,182.21 382.23,186.77 385.45,195.87 388.66,188.72 391.87,183.51 395.08,182 398.29,173.1 401.51,187.21 404.72,153.15 407.93,175.92 411.14,172.02 414.35,170.28 417.57,174.19 420.78,186.55 423.99,180.7 427.2,174.19 430.41,175.27 433.63,197.62 436.84,185.47 440.05,176.79 443.26,181.78 446.47,176.36 449.69,185.04 452.9,159.87 456.11,195.45 459.32,178.96 462.53,156.83 465.75,201.3 468.96,171.36 472.17,161.17 475.38,217.15 478.59,185.47 481.81,158.13 485.02,198.49 488.23,170.28 491.44,178.96 494.65,173.75 497.87,181.13 501.08,208.25 504.29,158.34 507.5,152.92 510.71,178.09 513.93,164.85 517.14,214.98 520.35,145.98 523.56,185.47 526.77,164.85 529.99,182" fill="none" stroke="#ef8a66" stroke-width="1.1" stroke-opacity="0.7" stroke-linejoin="round"/>
<circle cx="38.55" cy="206.72" r="1.7" fill="#ef8a66"/>
<circle cx="41.76" cy="197.19" r="1.7" fill="#ef8a66"/>
<circle cx="44.97" cy="204.55" r="1.7" fill="#ef8a66"/>
<circle cx="48.19" cy="195.45" r="1.7" fill="#ef8a66"/>
<circle cx="51.4" cy="219.1" r="1.7" fill="#ef8a66"/>
<circle cx="54.61" cy="177.87" r="1.7" fill="#ef8a66"/>
<circle cx="57.82" cy="220.4" r="1.7" fill="#ef8a66"/>
<circle cx="61.03" cy="186.55" r="1.7" fill="#ef8a66"/>
<circle cx="64.25" cy="195.87" r="1.7" fill="#ef8a66"/>
<circle cx="67.46" cy="170.28" r="1.7" fill="#ef8a66"/>
<circle cx="70.67" cy="218.87" r="1.7" fill="#ef8a66"/>
<circle cx="73.88" cy="202.38" r="1.7" fill="#ef8a66"/>
<circle cx="77.09" cy="192.19" r="1.7" fill="#ef8a66"/>
<circle cx="80.31" cy="195.45" r="1.7" fill="#ef8a66"/>
<circle cx="83.52" cy="189.38" r="1.7" fill="#ef8a66"/>
<circle cx="86.73" cy="208.47" r="1.7" fill="#ef8a66"/>
<circle cx="89.94" cy="205.87" r="1.7" fill="#ef8a66"/>
<circle cx="93.15" cy="216.49" r="1.7" fill="#ef8a66"/>
<circle cx="96.37" cy="198.49" r="1.7" fill="#ef8a66"/>
<circle cx="99.58" cy="182.21" r="1.7" fill="#ef8a66"/>
<circle cx="102.79" cy="197.19" r="1.7" fill="#ef8a66"/>
<circle cx="106" cy="202.38" r="1.7" fill="#ef8a66"/>
<circle cx="109.21" cy="196.96" r="1.7" fill="#ef8a66"/>
<circle cx="112.43" cy="195.87" r="1.7" fill="#ef8a66"/>
<circle cx="115.64" cy="189.59" r="1.7" fill="#ef8a66"/>
<circle cx="118.85" cy="182" r="1.7" fill="#ef8a66"/>
<circle cx="122.06" cy="180.04" r="1.7" fill="#ef8a66"/>
<circle cx="125.27" cy="175.27" r="1.7" fill="#ef8a66"/>
<circle cx="128.49" cy="172.89" r="1.7" fill="#ef8a66"/>
<circle cx="131.7" cy="182" r="1.7" fill="#ef8a66"/>
<circle cx="134.91" cy="218.87" r="1.7" fill="#ef8a66"/>
<circle cx="138.12" cy="204.55" r="1.7" fill="#ef8a66"/>
<circle cx="141.33" cy="204.55" r="1.7" fill="#ef8a66"/>
<circle cx="144.55" cy="201.74" r="1.7" fill="#ef8a66"/>
<circle cx="147.76" cy="201.74" r="1.7" fill="#ef8a66"/>
<circle cx="150.97" cy="196.32" r="1.7" fill="#ef8a66"/>
<circle cx="154.18" cy="203.26" r="1.7" fill="#ef8a66"/>
<circle cx="157.39" cy="195.87" r="1.7" fill="#ef8a66"/>
<circle cx="160.61" cy="206.72" r="1.7" fill="#ef8a66"/>
<circle cx="163.82" cy="199.36" r="1.7" fill="#ef8a66"/>
<circle cx="167.03" cy="199.36" r="1.7" fill="#ef8a66"/>
<circle cx="170.24" cy="192.41" r="1.7" fill="#ef8a66"/>
<circle cx="173.45" cy="204.55" r="1.7" fill="#ef8a66"/>
<circle cx="176.67" cy="189.38" r="1.7" fill="#ef8a66"/>
<circle cx="179.88" cy="204.55" r="1.7" fill="#ef8a66"/>
<circle cx="183.09" cy="202.38" r="1.7" fill="#ef8a66"/>
<circle cx="186.3" cy="194.15" r="1.7" fill="#ef8a66"/>
<circle cx="189.51" cy="186.77" r="1.7" fill="#ef8a66"/>
<circle cx="192.73" cy="178.53" r="1.7" fill="#ef8a66"/>
<circle cx="195.94" cy="208.25" r="1.7" fill="#ef8a66"/>
<circle cx="199.15" cy="204.55" r="1.7" fill="#ef8a66"/>
<circle cx="202.36" cy="198.92" r="1.7" fill="#ef8a66"/>
<circle cx="205.57" cy="195.02" r="1.7" fill="#ef8a66"/>
<circle cx="208.79" cy="202.38" r="1.7" fill="#ef8a66"/>
<circle cx="212" cy="190.45" r="1.7" fill="#ef8a66"/>
<circle cx="215.21" cy="183.72" r="1.7" fill="#ef8a66"/>
<circle cx="218.42" cy="193.7" r="1.7" fill="#ef8a66"/>
<circle cx="221.63" cy="221.91" r="1.7" fill="#ef8a66"/>
<circle cx="224.85" cy="213.23" r="1.7" fill="#ef8a66"/>
<circle cx="228.06" cy="203.47" r="1.7" fill="#ef8a66"/>
<circle cx="231.27" cy="199.13" r="1.7" fill="#ef8a66"/>
<circle cx="234.48" cy="195.87" r="1.7" fill="#ef8a66"/>
<circle cx="237.69" cy="190.68" r="1.7" fill="#ef8a66"/>
<circle cx="240.91" cy="184.38" r="1.7" fill="#ef8a66"/>
<circle cx="244.12" cy="176.36" r="1.7" fill="#ef8a66"/>
<circle cx="247.33" cy="208.02" r="1.7" fill="#ef8a66"/>
<circle cx="250.54" cy="207.81" r="1.7" fill="#ef8a66"/>
<circle cx="253.75" cy="207.17" r="1.7" fill="#ef8a66"/>
<circle cx="256.97" cy="201.74" r="1.7" fill="#ef8a66"/>
<circle cx="260.18" cy="196.96" r="1.7" fill="#ef8a66"/>
<circle cx="263.39" cy="192.62" r="1.7" fill="#ef8a66"/>
<circle cx="266.6" cy="185.04" r="1.7" fill="#ef8a66"/>
<circle cx="269.81" cy="175.7" r="1.7" fill="#ef8a66"/>
<circle cx="273.03" cy="173.1" r="1.7" fill="#ef8a66"/>
<circle cx="276.24" cy="150.75" r="1.7" fill="#ef8a66"/>
<circle cx="279.45" cy="212.81" r="1.7" fill="#ef8a66"/>
<circle cx="282.66" cy="209.55" r="1.7" fill="#ef8a66"/>
<circle cx="285.87" cy="204.55" r="1.7" fill="#ef8a66"/>
<circle cx="289.09" cy="203.26" r="1.7" fill="#ef8a66"/>
<circle cx="292.3" cy="195.87" r="1.7" fill="#ef8a66"/>
<circle cx="295.51" cy="178.09" r="1.7" fill="#ef8a66"/>
<circle cx="298.72" cy="176.36" r="1.7" fill="#ef8a66"/>
<circle cx="301.93" cy="173.75" r="1.7" fill="#ef8a66"/>
<circle cx="305.15" cy="148.81" r="1.7" fill="#ef8a66"/>
<circle cx="308.36" cy="210.42" r="1.7" fill="#ef8a66"/>
<circle cx="311.57" cy="188.72" r="1.7" fill="#ef8a66"/>
<circle cx="314.78" cy="182" r="1.7" fill="#ef8a66"/>
<circle cx="317.99" cy="180.04" r="1.7" fill="#ef8a66"/>
<circle cx="321.21" cy="174.19" r="1.7" fill="#ef8a66"/>
<circle cx="324.42" cy="196.53" r="1.7" fill="#ef8a66"/>
<circle cx="327.63" cy="189.81" r="1.7" fill="#ef8a66"/>
<circle cx="330.84" cy="221.91" r="1.7" fill="#ef8a66"/>
<circle cx="334.05" cy="194.79" r="1.7" fill="#ef8a66"/>
<circle cx="337.27" cy="180.04" r="1.7" fill="#ef8a66"/>
<circle cx="340.48" cy="166.15" r="1.7" fill="#ef8a66"/>
<circle cx="343.69" cy="181.78" r="1.7" fill="#ef8a66"/>
<circle cx="346.9" cy="179.83" r="1.7" fill="#ef8a66"/>
<circle cx="350.11" cy="172.02" r="1.7" fill="#ef8a66"/>
<circle cx="353.33" cy="213.23" r="1.7" fill="#ef8a66"/>
<circle cx="356.54" cy="200.87" r="1.7" fill="#ef8a66"/>
<circle cx="359.75" cy="197.62" r="1.7" fill="#ef8a66"/>
<circle cx="362.96" cy="190.45" r="1.7" fill="#ef8a66"/>
<circle cx="366.17" cy="183.51" r="1.7" fill="#ef8a66"/>
<circle cx="369.39" cy="163.77" r="1.7" fill="#ef8a66"/>
<circle cx="372.6" cy="186.55" r="1.7" fill="#ef8a66"/>
<circle cx="375.81" cy="185.04" r="1.7" fill="#ef8a66"/>
<circle cx="379.02" cy="182.21" r="1.7" fill="#ef8a66"/>
<circle cx="382.23" cy="186.77" r="1.7" fill="#ef8a66"/>
<circle cx="385.45" cy="195.87" r="1.7" fill="#ef8a66"/>
<circle cx="388.66" cy="188.72" r="1.7" fill="#ef8a66"/>
<circle cx="391.87" cy="183.51" r="1.7" fill="#ef8a66"/>
<circle cx="395.08" cy="182" r="1.7" fill="#ef8a66"/>
<circle cx="398.29" cy="173.1" r="1.7" fill="#ef8a66"/>
<circle cx="401.51" cy="187.21" r="1.7" fill="#ef8a66"/>
<circle cx="404.72" cy="153.15" r="1.7" fill="#ef8a66"/>
<circle cx="407.93" cy="175.92" r="1.7" fill="#ef8a66"/>
<circle cx="411.14" cy="172.02" r="1.7" fill="#ef8a66"/>
<circle cx="414.35" cy="170.28" r="1.7" fill="#ef8a66"/>
<circle cx="417.57" cy="174.19" r="1.7" fill="#ef8a66"/>
<circle cx="420.78" cy="186.55" r="1.7" fill="#ef8a66"/>
<circle cx="423.99" cy="180.7" r="1.7" fill="#ef8a66"/>
<circle cx="427.2" cy="174.19" r="1.7" fill="#ef8a66"/>
<circle cx="430.41" cy="175.27" r="1.7" fill="#ef8a66"/>
<circle cx="433.63" cy="197.62" r="1.7" fill="#ef8a66"/>
<circle cx="436.84" cy="185.47" r="1.7" fill="#ef8a66"/>
<circle cx="440.05" cy="176.79" r="1.7" fill="#ef8a66"/>
<circle cx="443.26" cy="181.78" r="1.7" fill="#ef8a66"/>
<circle cx="446.47" cy="176.36" r="1.7" fill="#ef8a66"/>
<circle cx="449.69" cy="185.04" r="1.7" fill="#ef8a66"/>
<circle cx="452.9" cy="159.87" r="1.7" fill="#ef8a66"/>
<circle cx="456.11" cy="195.45" r="1.7" fill="#ef8a66"/>
<circle cx="459.32" cy="178.96" r="1.7" fill="#ef8a66"/>
<circle cx="462.53" cy="156.83" r="1.7" fill="#ef8a66"/>
<circle cx="465.75" cy="201.3" r="1.7" fill="#ef8a66"/>
<circle cx="468.96" cy="171.36" r="1.7" fill="#ef8a66"/>
<circle cx="472.17" cy="161.17" r="1.7" fill="#ef8a66"/>
<circle cx="475.38" cy="217.15" r="1.7" fill="#ef8a66"/>
<circle cx="478.59" cy="185.47" r="1.7" fill="#ef8a66"/>
<circle cx="481.81" cy="158.13" r="1.7" fill="#ef8a66"/>
<circle cx="485.02" cy="198.49" r="1.7" fill="#ef8a66"/>
<circle cx="488.23" cy="170.28" r="1.7" fill="#ef8a66"/>
<circle cx="491.44" cy="178.96" r="1.7" fill="#ef8a66"/>
<circle cx="494.65" cy="173.75" r="1.7" fill="#ef8a66"/>
<circle cx="497.87" cy="181.13" r="1.7" fill="#ef8a66"/>
<circle cx="501.08" cy="208.25" r="1.7" fill="#ef8a66"/>
<circle cx="504.29" cy="158.34" r="1.7" fill="#ef8a66"/>
<circle cx="507.5" cy="152.92" r="1.7" fill="#ef8a66"/>
<circle cx="510.71" cy="178.09" r="1.7" fill="#ef8a66"/>
<circle cx="513.93" cy="164.85" r="1.7" fill="#ef8a66"/>
<circle cx="517.14" cy="214.98" r="1.7" fill="#ef8a66"/>
<circle cx="520.35" cy="145.98" r="1.7" fill="#ef8a66"/>
<circle cx="523.56" cy="185.47" r="1.7" fill="#ef8a66"/>
<circle cx="526.77" cy="164.85" r="1.7" fill="#ef8a66"/>
<circle cx="529.99" cy="182" r="1.7" fill="#ef8a66"/>
</g>
<rect x="36.89" y="139.1" width="499.27" height="96.7" fill="none" stroke="#000" stroke-opacity="0.6" stroke-width="0.8"/>
<line x1="34.89" x2="36.89" y1="223.9" y2="223.9" stroke="#000" stroke-opacity="0.6" stroke-width="0.8"/>
<text x="33.39" y="226.05" font-size="6.0" text-anchor="end">0.5</text>
<line x1="34.89" x2="36.89" y1="207.46" y2="207.46" stroke="#000" stroke-opacity="0.6" stroke-width="0.8"/>
<text x="33.39" y="209.61" font-size="6.0" text-anchor="end">0.6</text>
<line x1="34.89" x2="36.89" y1="191.02" y2="191.02" stroke="#000" stroke-opacity="0.6" stroke-width="0.8"/>
<text x="33.39" y="193.17" font-size="6.0" text-anchor="end">0.7</text>
<line x1="34.89" x2="36.89" y1="174.58" y2="174.58" stroke="#000" stroke-opacity="0.6" stroke-width="0.8"/>
<text x="33.39" y="176.73" font-size="6.0" text-anchor="end">0.8</text>
<line x1="34.89" x2="36.89" y1="158.14" y2="158.14" stroke="#000" stroke-opacity="0.6" stroke-width="0.8"/>
<text x="33.39" y="160.29" font-size="6.0" text-anchor="end">0.9</text>
<line x1="34.89" x2="36.89" y1="141.7" y2="141.7" stroke="#000" stroke-opacity="0.6" stroke-width="0.8"/>
<text x="33.39" y="143.85" font-size="6.0" text-anchor="end">1.0</text>
<line x1="38.3" x2="38.3" y1="235.8" y2="237.8" stroke="#000" stroke-opacity="0.6" stroke-width="0.8"/>
<line x1="102.54" x2="102.54" y1="235.8" y2="237.8" stroke="#000" stroke-opacity="0.6" stroke-width="0.8"/>
<line x1="166.78" x2="166.78" y1="235.8" y2="237.8" stroke="#000" stroke-opacity="0.6" stroke-width="0.8"/>
<line x1="231.02" x2="231.02" y1="235.8" y2="237.8" stroke="#000" stroke-opacity="0.6" stroke-width="0.8"/>
<line x1="295.26" x2="295.26" y1="235.8" y2="237.8" stroke="#000" stroke-opacity="0.6" stroke-width="0.8"/>
<line x1="359.5" x2="359.5" y1="235.8" y2="237.8" stroke="#000" stroke-opacity="0.6" stroke-width="0.8"/>
<line x1="423.74" x2="423.74" y1="235.8" y2="237.8" stroke="#000" stroke-opacity="0.6" stroke-width="0.8"/>
<line x1="487.98" x2="487.98" y1="235.8" y2="237.8" stroke="#000" stroke-opacity="0.6" stroke-width="0.8"/>
<text transform="translate(20.3,187.45) rotate(-90)" font-size="6.1" font-weight="bold" text-anchor="middle">Accuracy</text>
<rect x="36.89" y="139.1" width="69.35" height="12" fill="#fff" stroke="#000" stroke-opacity="0.8" stroke-width="0.8"/>
<text transform="translate(40.69,148.6) scale(1,1.05)" font-size="8.3" textLength="62.85" lengthAdjust="spacingAndGlyphs" style="font-family:Carlito,'Liberation Sans',sans-serif;stroke-width:0.08px">3 Seconds, Implicit</text>
<clipPath id="c2"><rect x="36.89" y="243.9" width="499.27" height="96.7"/></clipPath>
<g clip-path="url(#c2)"><polyline points="38.55,337.12 41.76,333.87 44.97,333.87 48.19,328.65 51.4,326.92 54.61,325.18 57.82,324.75 61.03,324.75 64.25,321.5 67.46,320.42 70.67,319.33 73.88,319.33 77.09,319.33 80.31,317.81 83.52,317.69 86.73,317.59 89.94,316.5 93.15,316.5 96.37,316.06 99.58,315.42 102.79,314.33 106,314.33 109.21,313.25 112.43,312.81 115.64,312.39 118.85,312.39 122.06,312.39 125.27,310.86 128.49,310.86 131.7,310.86 134.91,310.86 138.12,310.86 141.33,310.86 144.55,310 147.76,309.85 150.97,309.71 154.18,309.56 157.39,309.34 160.61,309.13 163.82,307.39 167.03,307.36 170.24,307.32 173.45,307.29 176.67,307.25 179.88,307.2 183.09,307.17 186.3,305.66 189.51,305.66 192.73,305.66 195.94,305.66 199.15,305.66 202.36,304.14 205.57,303.92 208.79,302.61 212,301.75 215.21,301.75 218.42,301.75 221.63,301.75 224.85,300.22 228.06,300.22 231.27,300.22 234.48,300.22 237.69,300.22 240.91,299.14 244.12,298.28 247.33,298.28 250.54,298.28 253.75,298.28 256.97,297.7 260.18,297.12 263.39,296.55 266.6,296.01 269.81,295.46 273.03,295.33 276.24,295.19 279.45,295.06 282.66,294.92 285.87,294.79 289.09,294.65 292.3,294.51 295.51,294.38 298.72,293.29 301.93,293.13 305.15,292.96 308.36,292.8 311.57,292.63 314.78,291.55 317.99,291.33 321.21,291.11 324.42,290.57 327.63,290.03 330.84,289.16 334.05,288.3 337.27,288.15 340.48,288.01 343.69,287.86 346.9,287.11 350.11,286.35 353.33,284.6 356.54,284.28 359.75,283.96 362.96,283.96 366.17,283.67 369.39,283.38 372.6,283.1 375.81,282.66 379.02,282.22 382.23,281.57 385.45,280.91 388.66,280.05 391.87,279.18 395.08,278.64 398.29,278.1 401.51,277.02 404.72,277.02 407.93,277.02 411.14,277.02 414.35,277.02 417.57,275.27 420.78,274.63 423.99,273.98 427.2,273.76 430.41,272.24 433.63,272.02 436.84,271.81 440.05,270.51 443.26,268.77 446.47,267.9 449.69,266.82 452.9,266.82 456.11,266.82 459.32,265.73 462.53,265.29 465.75,264.87 468.96,263.34 472.17,262.9 475.38,262.9 478.59,262.9 481.81,261.4 485.02,261.4 488.23,261.4 491.44,261.18 494.65,259.65 497.87,257.92 501.08,257.48 504.29,256.84 507.5,256.84 510.71,254.89 513.93,254.67 517.14,254.23 520.35,253.15 523.56,252.28 526.77,250.98 529.99,249.25" fill="none" stroke="#1f77b4" stroke-width="1.0" stroke-opacity="0.7" stroke-linejoin="round"/>
<circle cx="38.55" cy="337.12" r="1.55" fill="#1f77b4"/>
<circle cx="41.76" cy="333.87" r="1.55" fill="#1f77b4"/>
<circle cx="44.97" cy="333.87" r="1.55" fill="#1f77b4"/>
<circle cx="48.19" cy="328.65" r="1.55" fill="#1f77b4"/>
<circle cx="51.4" cy="326.92" r="1.55" fill="#1f77b4"/>
<circle cx="54.61" cy="325.18" r="1.55" fill="#1f77b4"/>
<circle cx="57.82" cy="324.75" r="1.55" fill="#1f77b4"/>
<circle cx="61.03" cy="324.75" r="1.55" fill="#1f77b4"/>
<circle cx="64.25" cy="321.5" r="1.55" fill="#1f77b4"/>
<circle cx="67.46" cy="320.42" r="1.55" fill="#1f77b4"/>
<circle cx="70.67" cy="319.33" r="1.55" fill="#1f77b4"/>
<circle cx="73.88" cy="319.33" r="1.55" fill="#1f77b4"/>
<circle cx="77.09" cy="319.33" r="1.55" fill="#1f77b4"/>
<circle cx="80.31" cy="317.81" r="1.55" fill="#1f77b4"/>
<circle cx="83.52" cy="317.69" r="1.55" fill="#1f77b4"/>
<circle cx="86.73" cy="317.59" r="1.55" fill="#1f77b4"/>
<circle cx="89.94" cy="316.5" r="1.55" fill="#1f77b4"/>
<circle cx="93.15" cy="316.5" r="1.55" fill="#1f77b4"/>
<circle cx="96.37" cy="316.06" r="1.55" fill="#1f77b4"/>
<circle cx="99.58" cy="315.42" r="1.55" fill="#1f77b4"/>
<circle cx="102.79" cy="314.33" r="1.55" fill="#1f77b4"/>
<circle cx="106" cy="314.33" r="1.55" fill="#1f77b4"/>
<circle cx="109.21" cy="313.25" r="1.55" fill="#1f77b4"/>
<circle cx="112.43" cy="312.81" r="1.55" fill="#1f77b4"/>
<circle cx="115.64" cy="312.39" r="1.55" fill="#1f77b4"/>
<circle cx="118.85" cy="312.39" r="1.55" fill="#1f77b4"/>
<circle cx="122.06" cy="312.39" r="1.55" fill="#1f77b4"/>
<circle cx="125.27" cy="310.86" r="1.55" fill="#1f77b4"/>
<circle cx="128.49" cy="310.86" r="1.55" fill="#1f77b4"/>
<circle cx="131.7" cy="310.86" r="1.55" fill="#1f77b4"/>
<circle cx="134.91" cy="310.86" r="1.55" fill="#1f77b4"/>
<circle cx="138.12" cy="310.86" r="1.55" fill="#1f77b4"/>
<circle cx="141.33" cy="310.86" r="1.55" fill="#1f77b4"/>
<circle cx="144.55" cy="310" r="1.55" fill="#1f77b4"/>
<circle cx="147.76" cy="309.85" r="1.55" fill="#1f77b4"/>
<circle cx="150.97" cy="309.71" r="1.55" fill="#1f77b4"/>
<circle cx="154.18" cy="309.56" r="1.55" fill="#1f77b4"/>
<circle cx="157.39" cy="309.34" r="1.55" fill="#1f77b4"/>
<circle cx="160.61" cy="309.13" r="1.55" fill="#1f77b4"/>
<circle cx="163.82" cy="307.39" r="1.55" fill="#1f77b4"/>
<circle cx="167.03" cy="307.36" r="1.55" fill="#1f77b4"/>
<circle cx="170.24" cy="307.32" r="1.55" fill="#1f77b4"/>
<circle cx="173.45" cy="307.29" r="1.55" fill="#1f77b4"/>
<circle cx="176.67" cy="307.25" r="1.55" fill="#1f77b4"/>
<circle cx="179.88" cy="307.2" r="1.55" fill="#1f77b4"/>
<circle cx="183.09" cy="307.17" r="1.55" fill="#1f77b4"/>
<circle cx="186.3" cy="305.66" r="1.55" fill="#1f77b4"/>
<circle cx="189.51" cy="305.66" r="1.55" fill="#1f77b4"/>
<circle cx="192.73" cy="305.66" r="1.55" fill="#1f77b4"/>
<circle cx="195.94" cy="305.66" r="1.55" fill="#1f77b4"/>
<circle cx="199.15" cy="305.66" r="1.55" fill="#1f77b4"/>
<circle cx="202.36" cy="304.14" r="1.55" fill="#1f77b4"/>
<circle cx="205.57" cy="303.92" r="1.55" fill="#1f77b4"/>
<circle cx="208.79" cy="302.61" r="1.55" fill="#1f77b4"/>
<circle cx="212" cy="301.75" r="1.55" fill="#1f77b4"/>
<circle cx="215.21" cy="301.75" r="1.55" fill="#1f77b4"/>
<circle cx="218.42" cy="301.75" r="1.55" fill="#1f77b4"/>
<circle cx="221.63" cy="301.75" r="1.55" fill="#1f77b4"/>
<circle cx="224.85" cy="300.22" r="1.55" fill="#1f77b4"/>
<circle cx="228.06" cy="300.22" r="1.55" fill="#1f77b4"/>
<circle cx="231.27" cy="300.22" r="1.55" fill="#1f77b4"/>
<circle cx="234.48" cy="300.22" r="1.55" fill="#1f77b4"/>
<circle cx="237.69" cy="300.22" r="1.55" fill="#1f77b4"/>
<circle cx="240.91" cy="299.14" r="1.55" fill="#1f77b4"/>
<circle cx="244.12" cy="298.28" r="1.55" fill="#1f77b4"/>
<circle cx="247.33" cy="298.28" r="1.55" fill="#1f77b4"/>
<circle cx="250.54" cy="298.28" r="1.55" fill="#1f77b4"/>
<circle cx="253.75" cy="298.28" r="1.55" fill="#1f77b4"/>
<circle cx="256.97" cy="297.7" r="1.55" fill="#1f77b4"/>
<circle cx="260.18" cy="297.12" r="1.55" fill="#1f77b4"/>
<circle cx="263.39" cy="296.55" r="1.55" fill="#1f77b4"/>
<circle cx="266.6" cy="296.01" r="1.55" fill="#1f77b4"/>
<circle cx="269.81" cy="295.46" r="1.55" fill="#1f77b4"/>
<circle cx="273.03" cy="295.33" r="1.55" fill="#1f77b4"/>
<circle cx="276.24" cy="295.19" r="1.55" fill="#1f77b4"/>
<circle cx="279.45" cy="295.06" r="1.55" fill="#1f77b4"/>
<circle cx="282.66" cy="294.92" r="1.55" fill="#1f77b4"/>
<circle cx="285.87" cy="294.79" r="1.55" fill="#1f77b4"/>
<circle cx="289.09" cy="294.65" r="1.55" fill="#1f77b4"/>
<circle cx="292.3" cy="294.51" r="1.55" fill="#1f77b4"/>
<circle cx="295.51" cy="294.38" r="1.55" fill="#1f77b4"/>
<circle cx="298.72" cy="293.29" r="1.55" fill="#1f77b4"/>
<circle cx="301.93" cy="293.13" r="1.55" fill="#1f77b4"/>
<circle cx="305.15" cy="292.96" r="1.55" fill="#1f77b4"/>
<circle cx="308.36" cy="292.8" r="1.55" fill="#1f77b4"/>
<circle cx="311.57" cy="292.63" r="1.55" fill="#1f77b4"/>
<circle cx="314.78" cy="291.55" r="1.55" fill="#1f77b4"/>
<circle cx="317.99" cy="291.33" r="1.55" fill="#1f77b4"/>
<circle cx="321.21" cy="291.11" r="1.55" fill="#1f77b4"/>
<circle cx="324.42" cy="290.57" r="1.55" fill="#1f77b4"/>
<circle cx="327.63" cy="290.03" r="1.55" fill="#1f77b4"/>
<circle cx="330.84" cy="289.16" r="1.55" fill="#1f77b4"/>
<circle cx="334.05" cy="288.3" r="1.55" fill="#1f77b4"/>
<circle cx="337.27" cy="288.15" r="1.55" fill="#1f77b4"/>
<circle cx="340.48" cy="288.01" r="1.55" fill="#1f77b4"/>
<circle cx="343.69" cy="287.86" r="1.55" fill="#1f77b4"/>
<circle cx="346.9" cy="287.11" r="1.55" fill="#1f77b4"/>
<circle cx="350.11" cy="286.35" r="1.55" fill="#1f77b4"/>
<circle cx="353.33" cy="284.6" r="1.55" fill="#1f77b4"/>
<circle cx="356.54" cy="284.28" r="1.55" fill="#1f77b4"/>
<circle cx="359.75" cy="283.96" r="1.55" fill="#1f77b4"/>
<circle cx="362.96" cy="283.96" r="1.55" fill="#1f77b4"/>
<circle cx="366.17" cy="283.67" r="1.55" fill="#1f77b4"/>
<circle cx="369.39" cy="283.38" r="1.55" fill="#1f77b4"/>
<circle cx="372.6" cy="283.1" r="1.55" fill="#1f77b4"/>
<circle cx="375.81" cy="282.66" r="1.55" fill="#1f77b4"/>
<circle cx="379.02" cy="282.22" r="1.55" fill="#1f77b4"/>
<circle cx="382.23" cy="281.57" r="1.55" fill="#1f77b4"/>
<circle cx="385.45" cy="280.91" r="1.55" fill="#1f77b4"/>
<circle cx="388.66" cy="280.05" r="1.55" fill="#1f77b4"/>
<circle cx="391.87" cy="279.18" r="1.55" fill="#1f77b4"/>
<circle cx="395.08" cy="278.64" r="1.55" fill="#1f77b4"/>
<circle cx="398.29" cy="278.1" r="1.55" fill="#1f77b4"/>
<circle cx="401.51" cy="277.02" r="1.55" fill="#1f77b4"/>
<circle cx="404.72" cy="277.02" r="1.55" fill="#1f77b4"/>
<circle cx="407.93" cy="277.02" r="1.55" fill="#1f77b4"/>
<circle cx="411.14" cy="277.02" r="1.55" fill="#1f77b4"/>
<circle cx="414.35" cy="277.02" r="1.55" fill="#1f77b4"/>
<circle cx="417.57" cy="275.27" r="1.55" fill="#1f77b4"/>
<circle cx="420.78" cy="274.63" r="1.55" fill="#1f77b4"/>
<circle cx="423.99" cy="273.98" r="1.55" fill="#1f77b4"/>
<circle cx="427.2" cy="273.76" r="1.55" fill="#1f77b4"/>
<circle cx="430.41" cy="272.24" r="1.55" fill="#1f77b4"/>
<circle cx="433.63" cy="272.02" r="1.55" fill="#1f77b4"/>
<circle cx="436.84" cy="271.81" r="1.55" fill="#1f77b4"/>
<circle cx="440.05" cy="270.51" r="1.55" fill="#1f77b4"/>
<circle cx="443.26" cy="268.77" r="1.55" fill="#1f77b4"/>
<circle cx="446.47" cy="267.9" r="1.55" fill="#1f77b4"/>
<circle cx="449.69" cy="266.82" r="1.55" fill="#1f77b4"/>
<circle cx="452.9" cy="266.82" r="1.55" fill="#1f77b4"/>
<circle cx="456.11" cy="266.82" r="1.55" fill="#1f77b4"/>
<circle cx="459.32" cy="265.73" r="1.55" fill="#1f77b4"/>
<circle cx="462.53" cy="265.29" r="1.55" fill="#1f77b4"/>
<circle cx="465.75" cy="264.87" r="1.55" fill="#1f77b4"/>
<circle cx="468.96" cy="263.34" r="1.55" fill="#1f77b4"/>
<circle cx="472.17" cy="262.9" r="1.55" fill="#1f77b4"/>
<circle cx="475.38" cy="262.9" r="1.55" fill="#1f77b4"/>
<circle cx="478.59" cy="262.9" r="1.55" fill="#1f77b4"/>
<circle cx="481.81" cy="261.4" r="1.55" fill="#1f77b4"/>
<circle cx="485.02" cy="261.4" r="1.55" fill="#1f77b4"/>
<circle cx="488.23" cy="261.4" r="1.55" fill="#1f77b4"/>
<circle cx="491.44" cy="261.18" r="1.55" fill="#1f77b4"/>
<circle cx="494.65" cy="259.65" r="1.55" fill="#1f77b4"/>
<circle cx="497.87" cy="257.92" r="1.55" fill="#1f77b4"/>
<circle cx="501.08" cy="257.48" r="1.55" fill="#1f77b4"/>
<circle cx="504.29" cy="256.84" r="1.55" fill="#1f77b4"/>
<circle cx="507.5" cy="256.84" r="1.55" fill="#1f77b4"/>
<circle cx="510.71" cy="254.89" r="1.55" fill="#1f77b4"/>
<circle cx="513.93" cy="254.67" r="1.55" fill="#1f77b4"/>
<circle cx="517.14" cy="254.23" r="1.55" fill="#1f77b4"/>
<circle cx="520.35" cy="253.15" r="1.55" fill="#1f77b4"/>
<circle cx="523.56" cy="252.28" r="1.55" fill="#1f77b4"/>
<circle cx="526.77" cy="250.98" r="1.55" fill="#1f77b4"/>
<circle cx="529.99" cy="249.25" r="1.55" fill="#1f77b4"/>
</g>
<g clip-path="url(#c2)"><polyline points="38.55,321.5 41.76,310.86 44.97,299.8 48.19,307.39 51.4,288.08 54.61,324.75 57.82,314.33 61.03,303.49 64.25,302.19 67.46,321.5 70.67,312.59 73.88,310.64 77.09,294.8 80.31,293.29 83.52,289.38 86.73,331.7 89.94,287.21 93.15,306.95 96.37,296.11 99.58,301.1 102.79,306.95 106,287.43 109.21,313.25 112.43,312.81 115.64,307.39 118.85,289.16 122.06,283.96 125.27,302.19 128.49,301.97 131.7,302.19 134.91,300.02 138.12,294.8 141.33,292.85 144.55,306.95 147.76,310.86 150.97,310.86 154.18,302.39 157.39,294.8 160.61,277.02 163.82,314.98 167.03,296.55 170.24,293.72 173.45,293.07 176.67,286.13 179.88,282.44 183.09,282.44 186.3,318.03 189.51,300.22 192.73,300.22 195.94,293.29 199.15,288.94 202.36,282.66 205.57,273.76 208.79,303.05 212,296.55 215.21,293.29 218.42,288.3 221.63,263.12 224.85,294.8 228.06,293.72 231.27,286.35 234.48,283.96 237.69,280.91 240.91,280.91 244.12,272.02 247.33,303.7 250.54,284.18 253.75,280.27 256.97,270.07 260.18,309.13 263.39,291.77 266.6,268.77 269.81,303.92 273.03,293.29 276.24,293.29 279.45,289.38 282.66,279.18 285.87,277.46 289.09,275.49 292.3,268.34 295.51,294.8 298.72,279.18 301.93,275.49 305.15,275.49 308.36,299.36 311.57,300.22 314.78,296.55 317.99,282.44 321.21,277.02 324.42,283.52 327.63,287.86 330.84,270.07 334.05,309.13 337.27,294.8 340.48,294.8 343.69,270.07 346.9,265.51 350.11,293.29 353.33,282.44 356.54,282.44 359.75,280.91 362.96,279.18 366.17,271.59 369.39,291.55 372.6,271.59 375.81,291.55 379.02,297.19 382.23,265.73 385.45,284.6 388.66,271.81 391.87,264.87 395.08,302.61 398.29,305.66 401.51,280.71 404.72,271.81 407.93,266.6 411.14,262.9 414.35,278.74 417.57,278.74 420.78,270.07 423.99,265.09 427.2,298.28 430.41,273.76 433.63,271.81 436.84,271.81 440.05,273.76 443.26,273.76 446.47,270.07 449.69,303.92 452.9,300.88 456.11,266.82 459.32,283.52 462.53,291.11 465.75,293.29 468.96,273.76 472.17,272.24 475.38,272.02 478.59,262.48 481.81,291.33 485.02,282.66 488.23,279.18 491.44,283.1 494.65,257.92 497.87,270.07 501.08,303.92 504.29,317.81 507.5,288.3 510.71,256.4 513.93,254.23 517.14,263.99 520.35,286.13 523.56,252.71 526.77,270.07 529.99,303.92" fill="none" stroke="#ef8a66" stroke-width="1.1" stroke-opacity="0.7" stroke-linejoin="round"/>
<circle cx="38.55" cy="321.5" r="1.7" fill="#ef8a66"/>
<circle cx="41.76" cy="310.86" r="1.7" fill="#ef8a66"/>
<circle cx="44.97" cy="299.8" r="1.7" fill="#ef8a66"/>
<circle cx="48.19" cy="307.39" r="1.7" fill="#ef8a66"/>
<circle cx="51.4" cy="288.08" r="1.7" fill="#ef8a66"/>
<circle cx="54.61" cy="324.75" r="1.7" fill="#ef8a66"/>
<circle cx="57.82" cy="314.33" r="1.7" fill="#ef8a66"/>
<circle cx="61.03" cy="303.49" r="1.7" fill="#ef8a66"/>
<circle cx="64.25" cy="302.19" r="1.7" fill="#ef8a66"/>
<circle cx="67.46" cy="321.5" r="1.7" fill="#ef8a66"/>
<circle cx="70.67" cy="312.59" r="1.7" fill="#ef8a66"/>
<circle cx="73.88" cy="310.64" r="1.7" fill="#ef8a66"/>
<circle cx="77.09" cy="294.8" r="1.7" fill="#ef8a66"/>
<circle cx="80.31" cy="293.29" r="1.7" fill="#ef8a66"/>
<circle cx="83.52" cy="289.38" r="1.7" fill="#ef8a66"/>
<circle cx="86.73" cy="331.7" r="1.7" fill="#ef8a66"/>
<circle cx="89.94" cy="287.21" r="1.7" fill="#ef8a66"/>
<circle cx="93.15" cy="306.95" r="1.7" fill="#ef8a66"/>
<circle cx="96.37" cy="296.11" r="1.7" fill="#ef8a66"/>
<circle cx="99.58" cy="301.1" r="1.7" fill="#ef8a66"/>
<circle cx="102.79" cy="306.95" r="1.7" fill="#ef8a66"/>
<circle cx="106" cy="287.43" r="1.7" fill="#ef8a66"/>
<circle cx="109.21" cy="313.25" r="1.7" fill="#ef8a66"/>
<circle cx="112.43" cy="312.81" r="1.7" fill="#ef8a66"/>
<circle cx="115.64" cy="307.39" r="1.7" fill="#ef8a66"/>
<circle cx="118.85" cy="289.16" r="1.7" fill="#ef8a66"/>
<circle cx="122.06" cy="283.96" r="1.7" fill="#ef8a66"/>
<circle cx="125.27" cy="302.19" r="1.7" fill="#ef8a66"/>
<circle cx="128.49" cy="301.97" r="1.7" fill="#ef8a66"/>
<circle cx="131.7" cy="302.19" r="1.7" fill="#ef8a66"/>
<circle cx="134.91" cy="300.02" r="1.7" fill="#ef8a66"/>
<circle cx="138.12" cy="294.8" r="1.7" fill="#ef8a66"/>
<circle cx="141.33" cy="292.85" r="1.7" fill="#ef8a66"/>
<circle cx="144.55" cy="306.95" r="1.7" fill="#ef8a66"/>
<circle cx="147.76" cy="310.86" r="1.7" fill="#ef8a66"/>
<circle cx="150.97" cy="310.86" r="1.7" fill="#ef8a66"/>
<circle cx="154.18" cy="302.39" r="1.7" fill="#ef8a66"/>
<circle cx="157.39" cy="294.8" r="1.7" fill="#ef8a66"/>
<circle cx="160.61" cy="277.02" r="1.7" fill="#ef8a66"/>
<circle cx="163.82" cy="314.98" r="1.7" fill="#ef8a66"/>
<circle cx="167.03" cy="296.55" r="1.7" fill="#ef8a66"/>
<circle cx="170.24" cy="293.72" r="1.7" fill="#ef8a66"/>
<circle cx="173.45" cy="293.07" r="1.7" fill="#ef8a66"/>
<circle cx="176.67" cy="286.13" r="1.7" fill="#ef8a66"/>
<circle cx="179.88" cy="282.44" r="1.7" fill="#ef8a66"/>
<circle cx="183.09" cy="282.44" r="1.7" fill="#ef8a66"/>
<circle cx="186.3" cy="318.03" r="1.7" fill="#ef8a66"/>
<circle cx="189.51" cy="300.22" r="1.7" fill="#ef8a66"/>
<circle cx="192.73" cy="300.22" r="1.7" fill="#ef8a66"/>
<circle cx="195.94" cy="293.29" r="1.7" fill="#ef8a66"/>
<circle cx="199.15" cy="288.94" r="1.7" fill="#ef8a66"/>
<circle cx="202.36" cy="282.66" r="1.7" fill="#ef8a66"/>
<circle cx="205.57" cy="273.76" r="1.7" fill="#ef8a66"/>
<circle cx="208.79" cy="303.05" r="1.7" fill="#ef8a66"/>
<circle cx="212" cy="296.55" r="1.7" fill="#ef8a66"/>
<circle cx="215.21" cy="293.29" r="1.7" fill="#ef8a66"/>
<circle cx="218.42" cy="288.3" r="1.7" fill="#ef8a66"/>
<circle cx="221.63" cy="263.12" r="1.7" fill="#ef8a66"/>
<circle cx="224.85" cy="294.8" r="1.7" fill="#ef8a66"/>
<circle cx="228.06" cy="293.72" r="1.7" fill="#ef8a66"/>
<circle cx="231.27" cy="286.35" r="1.7" fill="#ef8a66"/>
<circle cx="234.48" cy="283.96" r="1.7" fill="#ef8a66"/>
<circle cx="237.69" cy="280.91" r="1.7" fill="#ef8a66"/>
<circle cx="240.91" cy="280.91" r="1.7" fill="#ef8a66"/>
<circle cx="244.12" cy="272.02" r="1.7" fill="#ef8a66"/>
<circle cx="247.33" cy="303.7" r="1.7" fill="#ef8a66"/>
<circle cx="250.54" cy="284.18" r="1.7" fill="#ef8a66"/>
<circle cx="253.75" cy="280.27" r="1.7" fill="#ef8a66"/>
<circle cx="256.97" cy="270.07" r="1.7" fill="#ef8a66"/>
<circle cx="260.18" cy="309.13" r="1.7" fill="#ef8a66"/>
<circle cx="263.39" cy="291.77" r="1.7" fill="#ef8a66"/>
<circle cx="266.6" cy="268.77" r="1.7" fill="#ef8a66"/>
<circle cx="269.81" cy="303.92" r="1.7" fill="#ef8a66"/>
<circle cx="273.03" cy="293.29" r="1.7" fill="#ef8a66"/>
<circle cx="276.24" cy="293.29" r="1.7" fill="#ef8a66"/>
<circle cx="279.45" cy="289.38" r="1.7" fill="#ef8a66"/>
<circle cx="282.66" cy="279.18" r="1.7" fill="#ef8a66"/>
<circle cx="285.87" cy="277.46" r="1.7" fill="#ef8a66"/>
<circle cx="289.09" cy="275.49" r="1.7" fill="#ef8a66"/>
<circle cx="292.3" cy="268.34" r="1.7" fill="#ef8a66"/>
<circle cx="295.51" cy="294.8" r="1.7" fill="#ef8a66"/>
<circle cx="298.72" cy="279.18" r="1.7" fill="#ef8a66"/>
<circle cx="301.93" cy="275.49" r="1.7" fill="#ef8a66"/>
<circle cx="305.15" cy="275.49" r="1.7" fill="#ef8a66"/>
<circle cx="308.36" cy="299.36" r="1.7" fill="#ef8a66"/>
<circle cx="311.57" cy="300.22" r="1.7" fill="#ef8a66"/>
<circle cx="314.78" cy="296.55" r="1.7" fill="#ef8a66"/>
<circle cx="317.99" cy="282.44" r="1.7" fill="#ef8a66"/>
<circle cx="321.21" cy="277.02" r="1.7" fill="#ef8a66"/>
<circle cx="324.42" cy="283.52" r="1.7" fill="#ef8a66"/>
<circle cx="327.63" cy="287.86" r="1.7" fill="#ef8a66"/>
<circle cx="330.84" cy="270.07" r="1.7" fill="#ef8a66"/>
<circle cx="334.05" cy="309.13" r="1.7" fill="#ef8a66"/>
<circle cx="337.27" cy="294.8" r="1.7" fill="#ef8a66"/>
<circle cx="340.48" cy="294.8" r="1.7" fill="#ef8a66"/>
<circle cx="343.69" cy="270.07" r="1.7" fill="#ef8a66"/>
<circle cx="346.9" cy="265.51" r="1.7" fill="#ef8a66"/>
<circle cx="350.11" cy="293.29" r="1.7" fill="#ef8a66"/>
<circle cx="353.33" cy="282.44" r="1.7" fill="#ef8a66"/>
<circle cx="356.54" cy="282.44" r="1.7" fill="#ef8a66"/>
<circle cx="359.75" cy="280.91" r="1.7" fill="#ef8a66"/>
<circle cx="362.96" cy="279.18" r="1.7" fill="#ef8a66"/>
<circle cx="366.17" cy="271.59" r="1.7" fill="#ef8a66"/>
<circle cx="369.39" cy="291.55" r="1.7" fill="#ef8a66"/>
<circle cx="372.6" cy="271.59" r="1.7" fill="#ef8a66"/>
<circle cx="375.81" cy="291.55" r="1.7" fill="#ef8a66"/>
<circle cx="379.02" cy="297.19" r="1.7" fill="#ef8a66"/>
<circle cx="382.23" cy="265.73" r="1.7" fill="#ef8a66"/>
<circle cx="385.45" cy="284.6" r="1.7" fill="#ef8a66"/>
<circle cx="388.66" cy="271.81" r="1.7" fill="#ef8a66"/>
<circle cx="391.87" cy="264.87" r="1.7" fill="#ef8a66"/>
<circle cx="395.08" cy="302.61" r="1.7" fill="#ef8a66"/>
<circle cx="398.29" cy="305.66" r="1.7" fill="#ef8a66"/>
<circle cx="401.51" cy="280.71" r="1.7" fill="#ef8a66"/>
<circle cx="404.72" cy="271.81" r="1.7" fill="#ef8a66"/>
<circle cx="407.93" cy="266.6" r="1.7" fill="#ef8a66"/>
<circle cx="411.14" cy="262.9" r="1.7" fill="#ef8a66"/>
<circle cx="414.35" cy="278.74" r="1.7" fill="#ef8a66"/>
<circle cx="417.57" cy="278.74" r="1.7" fill="#ef8a66"/>
<circle cx="420.78" cy="270.07" r="1.7" fill="#ef8a66"/>
<circle cx="423.99" cy="265.09" r="1.7" fill="#ef8a66"/>
<circle cx="427.2" cy="298.28" r="1.7" fill="#ef8a66"/>
<circle cx="430.41" cy="273.76" r="1.7" fill="#ef8a66"/>
<circle cx="433.63" cy="271.81" r="1.7" fill="#ef8a66"/>
<circle cx="436.84" cy="271.81" r="1.7" fill="#ef8a66"/>
<circle cx="440.05" cy="273.76" r="1.7" fill="#ef8a66"/>
<circle cx="443.26" cy="273.76" r="1.7" fill="#ef8a66"/>
<circle cx="446.47" cy="270.07" r="1.7" fill="#ef8a66"/>
<circle cx="449.69" cy="303.92" r="1.7" fill="#ef8a66"/>
<circle cx="452.9" cy="300.88" r="1.7" fill="#ef8a66"/>
<circle cx="456.11" cy="266.82" r="1.7" fill="#ef8a66"/>
<circle cx="459.32" cy="283.52" r="1.7" fill="#ef8a66"/>
<circle cx="462.53" cy="291.11" r="1.7" fill="#ef8a66"/>
<circle cx="465.75" cy="293.29" r="1.7" fill="#ef8a66"/>
<circle cx="468.96" cy="273.76" r="1.7" fill="#ef8a66"/>
<circle cx="472.17" cy="272.24" r="1.7" fill="#ef8a66"/>
<circle cx="475.38" cy="272.02" r="1.7" fill="#ef8a66"/>
<circle cx="478.59" cy="262.48" r="1.7" fill="#ef8a66"/>
<circle cx="481.81" cy="291.33" r="1.7" fill="#ef8a66"/>
<circle cx="485.02" cy="282.66" r="1.7" fill="#ef8a66"/>
<circle cx="488.23" cy="279.18" r="1.7" fill="#ef8a66"/>
<circle cx="491.44" cy="283.1" r="1.7" fill="#ef8a66"/>
<circle cx="494.65" cy="257.92" r="1.7" fill="#ef8a66"/>
<circle cx="497.87" cy="270.07" r="1.7" fill="#ef8a66"/>
<circle cx="501.08" cy="303.92" r="1.7" fill="#ef8a66"/>
<circle cx="504.29" cy="317.81" r="1.7" fill="#ef8a66"/>
<circle cx="507.5" cy="288.3" r="1.7" fill="#ef8a66"/>
<circle cx="510.71" cy="256.4" r="1.7" fill="#ef8a66"/>
<circle cx="513.93" cy="254.23" r="1.7" fill="#ef8a66"/>
<circle cx="517.14" cy="263.99" r="1.7" fill="#ef8a66"/>
<circle cx="520.35" cy="286.13" r="1.7" fill="#ef8a66"/>
<circle cx="523.56" cy="252.71" r="1.7" fill="#ef8a66"/>
<circle cx="526.77" cy="270.07" r="1.7" fill="#ef8a66"/>
<circle cx="529.99" cy="303.92" r="1.7" fill="#ef8a66"/>
</g>
<rect x="36.89" y="243.9" width="499.27" height="96.7" fill="none" stroke="#000" stroke-opacity="0.6" stroke-width="0.8"/>
<line x1="34.89" x2="36.89" y1="333.6" y2="333.6" stroke="#000" stroke-opacity="0.6" stroke-width="0.8"/>
<text x="33.39" y="335.75" font-size="6.0" text-anchor="end">0.5</text>
<line x1="34.89" x2="36.89" y1="316.66" y2="316.66" stroke="#000" stroke-opacity="0.6" stroke-width="0.8"/>
<text x="33.39" y="318.81" font-size="6.0" text-anchor="end">0.6</text>
<line x1="34.89" x2="36.89" y1="299.72" y2="299.72" stroke="#000" stroke-opacity="0.6" stroke-width="0.8"/>
<text x="33.39" y="301.87" font-size="6.0" text-anchor="end">0.7</text>
<line x1="34.89" x2="36.89" y1="282.78" y2="282.78" stroke="#000" stroke-opacity="0.6" stroke-width="0.8"/>
<text x="33.39" y="284.93" font-size="6.0" text-anchor="end">0.8</text>
<line x1="34.89" x2="36.89" y1="265.84" y2="265.84" stroke="#000" stroke-opacity="0.6" stroke-width="0.8"/>
<text x="33.39" y="267.99" font-size="6.0" text-anchor="end">0.9</text>
<line x1="34.89" x2="36.89" y1="248.9" y2="248.9" stroke="#000" stroke-opacity="0.6" stroke-width="0.8"/>
<text x="33.39" y="251.05" font-size="6.0" text-anchor="end">1.0</text>
<line x1="38.3" x2="38.3" y1="340.6" y2="342.6" stroke="#000" stroke-opacity="0.6" stroke-width="0.8"/>
<line x1="102.54" x2="102.54" y1="340.6" y2="342.6" stroke="#000" stroke-opacity="0.6" stroke-width="0.8"/>
<line x1="166.78" x2="166.78" y1="340.6" y2="342.6" stroke="#000" stroke-opacity="0.6" stroke-width="0.8"/>
<line x1="231.02" x2="231.02" y1="340.6" y2="342.6" stroke="#000" stroke-opacity="0.6" stroke-width="0.8"/>
<line x1="295.26" x2="295.26" y1="340.6" y2="342.6" stroke="#000" stroke-opacity="0.6" stroke-width="0.8"/>
<line x1="359.5" x2="359.5" y1="340.6" y2="342.6" stroke="#000" stroke-opacity="0.6" stroke-width="0.8"/>
<line x1="423.74" x2="423.74" y1="340.6" y2="342.6" stroke="#000" stroke-opacity="0.6" stroke-width="0.8"/>
<line x1="487.98" x2="487.98" y1="340.6" y2="342.6" stroke="#000" stroke-opacity="0.6" stroke-width="0.8"/>
<text transform="translate(20.3,292.25) rotate(-90)" font-size="6.1" font-weight="bold" text-anchor="middle">Accuracy</text>
<rect x="36.89" y="243.9" width="78.82" height="12" fill="#fff" stroke="#000" stroke-opacity="0.8" stroke-width="0.8"/>
<text transform="translate(40.69,253.4) scale(1,1.05)" font-size="8.3" textLength="72.32" lengthAdjust="spacingAndGlyphs" style="font-family:Carlito,'Liberation Sans',sans-serif;stroke-width:0.08px">8 Seconds, Combined</text>
<clipPath id="c3"><rect x="36.89" y="348.2" width="499.27" height="96.8"/></clipPath>
<g clip-path="url(#c3)"><polyline points="38.55,441.12 41.76,439.6 44.97,432.44 48.19,430.92 51.4,429.19 54.61,428.75 57.82,427.67 61.03,427.23 64.25,427.01 67.46,426.15 70.67,425.49 73.88,425.49 77.09,425.49 80.31,423.76 83.52,422.67 86.73,422.24 89.94,420.72 93.15,420.67 96.37,420.62 99.58,420.59 102.79,420.54 106,420.51 109.21,418.55 112.43,418.5 115.64,418.44 118.85,418.39 122.06,418.34 125.27,417.24 128.49,417.14 131.7,417.03 134.91,416.92 138.12,416.82 141.33,415.3 144.55,415.3 147.76,415.3 150.97,415.3 154.18,415.3 157.39,413.57 160.61,413.57 163.82,413.57 167.03,412.47 170.24,412.14 173.45,411.82 176.67,411.39 179.88,410.3 183.09,410.3 186.3,410.3 189.51,410.3 192.73,410.3 195.94,409.22 199.15,408.79 202.36,408.79 205.57,408.79 208.79,408.79 212,408.79 215.21,408.79 218.42,408.79 221.63,408.79 224.85,407.49 228.06,406.62 231.27,405.31 234.48,405.31 237.69,405.31 240.91,404.87 244.12,403.79 247.33,403.79 250.54,403.79 253.75,403.79 256.97,403.71 260.18,403.61 263.39,403.53 266.6,403.45 269.81,403.37 273.03,402.27 276.24,401.95 279.45,401.62 282.66,400.1 285.87,400.1 289.09,400.1 292.3,400.1 295.51,400.1 298.72,398.37 301.93,398.16 305.15,397.94 308.36,396.85 311.57,396.52 314.78,396.2 317.99,395.33 321.21,394.91 324.42,394.46 327.63,394.04 330.84,393.6 334.05,393.27 337.27,392.94 340.48,392.41 343.69,391.87 346.9,390.77 350.11,390.13 353.33,389.99 356.54,389.84 359.75,389.69 362.96,389.69 366.17,389.15 369.39,388.61 372.6,388.5 375.81,388.39 379.02,388.29 382.23,388.17 385.45,386.44 388.66,386.44 391.87,386.44 395.08,386.44 398.29,386.44 401.51,386.44 404.72,384.71 407.93,384.71 411.14,384.71 414.35,381.02 417.57,380.58 420.78,380.25 423.99,379.92 427.2,379.61 430.41,379.28 433.63,378.19 436.84,376.25 440.05,375.71 443.26,375.15 446.47,374.51 449.69,374.51 452.9,374.51 456.11,374.51 459.32,372.76 462.53,371.9 465.75,369.73 468.96,367.99 472.17,367.99 475.38,367.99 478.59,367.57 481.81,366.92 485.02,366.26 488.23,365.4 491.44,364.3 494.65,362.8 497.87,362.36 501.08,361.92 504.29,361.49 507.5,361.49 510.71,360.62 513.93,359.76 517.14,356.07 520.35,355.41 523.56,354.55 526.77,353.68 529.99,352.81" fill="none" stroke="#1f77b4" stroke-width="1.0" stroke-opacity="0.7" stroke-linejoin="round"/>
<circle cx="38.55" cy="441.12" r="1.55" fill="#1f77b4"/>
<circle cx="41.76" cy="439.6" r="1.55" fill="#1f77b4"/>
<circle cx="44.97" cy="432.44" r="1.55" fill="#1f77b4"/>
<circle cx="48.19" cy="430.92" r="1.55" fill="#1f77b4"/>
<circle cx="51.4" cy="429.19" r="1.55" fill="#1f77b4"/>
<circle cx="54.61" cy="428.75" r="1.55" fill="#1f77b4"/>
<circle cx="57.82" cy="427.67" r="1.55" fill="#1f77b4"/>
<circle cx="61.03" cy="427.23" r="1.55" fill="#1f77b4"/>
<circle cx="64.25" cy="427.01" r="1.55" fill="#1f77b4"/>
<circle cx="67.46" cy="426.15" r="1.55" fill="#1f77b4"/>
<circle cx="70.67" cy="425.49" r="1.55" fill="#1f77b4"/>
<circle cx="73.88" cy="425.49" r="1.55" fill="#1f77b4"/>
<circle cx="77.09" cy="425.49" r="1.55" fill="#1f77b4"/>
<circle cx="80.31" cy="423.76" r="1.55" fill="#1f77b4"/>
<circle cx="83.52" cy="422.67" r="1.55" fill="#1f77b4"/>
<circle cx="86.73" cy="422.24" r="1.55" fill="#1f77b4"/>
<circle cx="89.94" cy="420.72" r="1.55" fill="#1f77b4"/>
<circle cx="93.15" cy="420.67" r="1.55" fill="#1f77b4"/>
<circle cx="96.37" cy="420.62" r="1.55" fill="#1f77b4"/>
<circle cx="99.58" cy="420.59" r="1.55" fill="#1f77b4"/>
<circle cx="102.79" cy="420.54" r="1.55" fill="#1f77b4"/>
<circle cx="106" cy="420.51" r="1.55" fill="#1f77b4"/>
<circle cx="109.21" cy="418.55" r="1.55" fill="#1f77b4"/>
<circle cx="112.43" cy="418.5" r="1.55" fill="#1f77b4"/>
<circle cx="115.64" cy="418.44" r="1.55" fill="#1f77b4"/>
<circle cx="118.85" cy="418.39" r="1.55" fill="#1f77b4"/>
<circle cx="122.06" cy="418.34" r="1.55" fill="#1f77b4"/>
<circle cx="125.27" cy="417.24" r="1.55" fill="#1f77b4"/>
<circle cx="128.49" cy="417.14" r="1.55" fill="#1f77b4"/>
<circle cx="131.7" cy="417.03" r="1.55" fill="#1f77b4"/>
<circle cx="134.91" cy="416.92" r="1.55" fill="#1f77b4"/>
<circle cx="138.12" cy="416.82" r="1.55" fill="#1f77b4"/>
<circle cx="141.33" cy="415.3" r="1.55" fill="#1f77b4"/>
<circle cx="144.55" cy="415.3" r="1.55" fill="#1f77b4"/>
<circle cx="147.76" cy="415.3" r="1.55" fill="#1f77b4"/>
<circle cx="150.97" cy="415.3" r="1.55" fill="#1f77b4"/>
<circle cx="154.18" cy="415.3" r="1.55" fill="#1f77b4"/>
<circle cx="157.39" cy="413.57" r="1.55" fill="#1f77b4"/>
<circle cx="160.61" cy="413.57" r="1.55" fill="#1f77b4"/>
<circle cx="163.82" cy="413.57" r="1.55" fill="#1f77b4"/>
<circle cx="167.03" cy="412.47" r="1.55" fill="#1f77b4"/>
<circle cx="170.24" cy="412.14" r="1.55" fill="#1f77b4"/>
<circle cx="173.45" cy="411.82" r="1.55" fill="#1f77b4"/>
<circle cx="176.67" cy="411.39" r="1.55" fill="#1f77b4"/>
<circle cx="179.88" cy="410.3" r="1.55" fill="#1f77b4"/>
<circle cx="183.09" cy="410.3" r="1.55" fill="#1f77b4"/>
<circle cx="186.3" cy="410.3" r="1.55" fill="#1f77b4"/>
<circle cx="189.51" cy="410.3" r="1.55" fill="#1f77b4"/>
<circle cx="192.73" cy="410.3" r="1.55" fill="#1f77b4"/>
<circle cx="195.94" cy="409.22" r="1.55" fill="#1f77b4"/>
<circle cx="199.15" cy="408.79" r="1.55" fill="#1f77b4"/>
<circle cx="202.36" cy="408.79" r="1.55" fill="#1f77b4"/>
<circle cx="205.57" cy="408.79" r="1.55" fill="#1f77b4"/>
<circle cx="208.79" cy="408.79" r="1.55" fill="#1f77b4"/>
<circle cx="212" cy="408.79" r="1.55" fill="#1f77b4"/>
<circle cx="215.21" cy="408.79" r="1.55" fill="#1f77b4"/>
<circle cx="218.42" cy="408.79" r="1.55" fill="#1f77b4"/>
<circle cx="221.63" cy="408.79" r="1.55" fill="#1f77b4"/>
<circle cx="224.85" cy="407.49" r="1.55" fill="#1f77b4"/>
<circle cx="228.06" cy="406.62" r="1.55" fill="#1f77b4"/>
<circle cx="231.27" cy="405.31" r="1.55" fill="#1f77b4"/>
<circle cx="234.48" cy="405.31" r="1.55" fill="#1f77b4"/>
<circle cx="237.69" cy="405.31" r="1.55" fill="#1f77b4"/>
<circle cx="240.91" cy="404.87" r="1.55" fill="#1f77b4"/>
<circle cx="244.12" cy="403.79" r="1.55" fill="#1f77b4"/>
<circle cx="247.33" cy="403.79" r="1.55" fill="#1f77b4"/>
<circle cx="250.54" cy="403.79" r="1.55" fill="#1f77b4"/>
<circle cx="253.75" cy="403.79" r="1.55" fill="#1f77b4"/>
<circle cx="256.97" cy="403.71" r="1.55" fill="#1f77b4"/>
<circle cx="260.18" cy="403.61" r="1.55" fill="#1f77b4"/>
<circle cx="263.39" cy="403.53" r="1.55" fill="#1f77b4"/>
<circle cx="266.6" cy="403.45" r="1.55" fill="#1f77b4"/>
<circle cx="269.81" cy="403.37" r="1.55" fill="#1f77b4"/>
<circle cx="273.03" cy="402.27" r="1.55" fill="#1f77b4"/>
<circle cx="276.24" cy="401.95" r="1.55" fill="#1f77b4"/>
<circle cx="279.45" cy="401.62" r="1.55" fill="#1f77b4"/>
<circle cx="282.66" cy="400.1" r="1.55" fill="#1f77b4"/>
<circle cx="285.87" cy="400.1" r="1.55" fill="#1f77b4"/>
<circle cx="289.09" cy="400.1" r="1.55" fill="#1f77b4"/>
<circle cx="292.3" cy="400.1" r="1.55" fill="#1f77b4"/>
<circle cx="295.51" cy="400.1" r="1.55" fill="#1f77b4"/>
<circle cx="298.72" cy="398.37" r="1.55" fill="#1f77b4"/>
<circle cx="301.93" cy="398.16" r="1.55" fill="#1f77b4"/>
<circle cx="305.15" cy="397.94" r="1.55" fill="#1f77b4"/>
<circle cx="308.36" cy="396.85" r="1.55" fill="#1f77b4"/>
<circle cx="311.57" cy="396.52" r="1.55" fill="#1f77b4"/>
<circle cx="314.78" cy="396.2" r="1.55" fill="#1f77b4"/>
<circle cx="317.99" cy="395.33" r="1.55" fill="#1f77b4"/>
<circle cx="321.21" cy="394.91" r="1.55" fill="#1f77b4"/>
<circle cx="324.42" cy="394.46" r="1.55" fill="#1f77b4"/>
<circle cx="327.63" cy="394.04" r="1.55" fill="#1f77b4"/>
<circle cx="330.84" cy="393.6" r="1.55" fill="#1f77b4"/>
<circle cx="334.05" cy="393.27" r="1.55" fill="#1f77b4"/>
<circle cx="337.27" cy="392.94" r="1.55" fill="#1f77b4"/>
<circle cx="340.48" cy="392.41" r="1.55" fill="#1f77b4"/>
<circle cx="343.69" cy="391.87" r="1.55" fill="#1f77b4"/>
<circle cx="346.9" cy="390.77" r="1.55" fill="#1f77b4"/>
<circle cx="350.11" cy="390.13" r="1.55" fill="#1f77b4"/>
<circle cx="353.33" cy="389.99" r="1.55" fill="#1f77b4"/>
<circle cx="356.54" cy="389.84" r="1.55" fill="#1f77b4"/>
<circle cx="359.75" cy="389.69" r="1.55" fill="#1f77b4"/>
<circle cx="362.96" cy="389.69" r="1.55" fill="#1f77b4"/>
<circle cx="366.17" cy="389.15" r="1.55" fill="#1f77b4"/>
<circle cx="369.39" cy="388.61" r="1.55" fill="#1f77b4"/>
<circle cx="372.6" cy="388.5" r="1.55" fill="#1f77b4"/>
<circle cx="375.81" cy="388.39" r="1.55" fill="#1f77b4"/>
<circle cx="379.02" cy="388.29" r="1.55" fill="#1f77b4"/>
<circle cx="382.23" cy="388.17" r="1.55" fill="#1f77b4"/>
<circle cx="385.45" cy="386.44" r="1.55" fill="#1f77b4"/>
<circle cx="388.66" cy="386.44" r="1.55" fill="#1f77b4"/>
<circle cx="391.87" cy="386.44" r="1.55" fill="#1f77b4"/>
<circle cx="395.08" cy="386.44" r="1.55" fill="#1f77b4"/>
<circle cx="398.29" cy="386.44" r="1.55" fill="#1f77b4"/>
<circle cx="401.51" cy="386.44" r="1.55" fill="#1f77b4"/>
<circle cx="404.72" cy="384.71" r="1.55" fill="#1f77b4"/>
<circle cx="407.93" cy="384.71" r="1.55" fill="#1f77b4"/>
<circle cx="411.14" cy="384.71" r="1.55" fill="#1f77b4"/>
<circle cx="414.35" cy="381.02" r="1.55" fill="#1f77b4"/>
<circle cx="417.57" cy="380.58" r="1.55" fill="#1f77b4"/>
<circle cx="420.78" cy="380.25" r="1.55" fill="#1f77b4"/>
<circle cx="423.99" cy="379.92" r="1.55" fill="#1f77b4"/>
<circle cx="427.2" cy="379.61" r="1.55" fill="#1f77b4"/>
<circle cx="430.41" cy="379.28" r="1.55" fill="#1f77b4"/>
<circle cx="433.63" cy="378.19" r="1.55" fill="#1f77b4"/>
<circle cx="436.84" cy="376.25" r="1.55" fill="#1f77b4"/>
<circle cx="440.05" cy="375.71" r="1.55" fill="#1f77b4"/>
<circle cx="443.26" cy="375.15" r="1.55" fill="#1f77b4"/>
<circle cx="446.47" cy="374.51" r="1.55" fill="#1f77b4"/>
<circle cx="449.69" cy="374.51" r="1.55" fill="#1f77b4"/>
<circle cx="452.9" cy="374.51" r="1.55" fill="#1f77b4"/>
<circle cx="456.11" cy="374.51" r="1.55" fill="#1f77b4"/>
<circle cx="459.32" cy="372.76" r="1.55" fill="#1f77b4"/>
<circle cx="462.53" cy="371.9" r="1.55" fill="#1f77b4"/>
<circle cx="465.75" cy="369.73" r="1.55" fill="#1f77b4"/>
<circle cx="468.96" cy="367.99" r="1.55" fill="#1f77b4"/>
<circle cx="472.17" cy="367.99" r="1.55" fill="#1f77b4"/>
<circle cx="475.38" cy="367.99" r="1.55" fill="#1f77b4"/>
<circle cx="478.59" cy="367.57" r="1.55" fill="#1f77b4"/>
<circle cx="481.81" cy="366.92" r="1.55" fill="#1f77b4"/>
<circle cx="485.02" cy="366.26" r="1.55" fill="#1f77b4"/>
<circle cx="488.23" cy="365.4" r="1.55" fill="#1f77b4"/>
<circle cx="491.44" cy="364.3" r="1.55" fill="#1f77b4"/>
<circle cx="494.65" cy="362.8" r="1.55" fill="#1f77b4"/>
<circle cx="497.87" cy="362.36" r="1.55" fill="#1f77b4"/>
<circle cx="501.08" cy="361.92" r="1.55" fill="#1f77b4"/>
<circle cx="504.29" cy="361.49" r="1.55" fill="#1f77b4"/>
<circle cx="507.5" cy="361.49" r="1.55" fill="#1f77b4"/>
<circle cx="510.71" cy="360.62" r="1.55" fill="#1f77b4"/>
<circle cx="513.93" cy="359.76" r="1.55" fill="#1f77b4"/>
<circle cx="517.14" cy="356.07" r="1.55" fill="#1f77b4"/>
<circle cx="520.35" cy="355.41" r="1.55" fill="#1f77b4"/>
<circle cx="523.56" cy="354.55" r="1.55" fill="#1f77b4"/>
<circle cx="526.77" cy="353.68" r="1.55" fill="#1f77b4"/>
<circle cx="529.99" cy="352.81" r="1.55" fill="#1f77b4"/>
</g>
<g clip-path="url(#c3)"><polyline points="38.55,411.82 41.76,411.82 44.97,413.57 48.19,414.64 51.4,411.82 54.61,407.05 57.82,413.99 61.03,391.87 64.25,427.67 67.46,411.82 70.67,387.96 73.88,387.96 77.09,408.57 80.31,434.61 83.52,403.14 86.73,401.62 89.94,415.72 93.15,408.57 96.37,407.05 99.58,400.54 102.79,400.1 106,381.67 109.21,413.99 112.43,405.31 115.64,392.94 118.85,377.76 122.06,405.31 125.27,395.12 128.49,392.94 131.7,390.13 134.91,389.69 138.12,425.49 141.33,404.87 144.55,398.37 147.76,395.12 150.97,383.19 154.18,381.44 157.39,398.37 160.61,393.39 163.82,402.27 167.03,417.47 170.24,410.3 173.45,407.05 176.67,404.87 179.88,413.99 183.09,402.27 186.3,391.43 189.51,391.43 192.73,383.19 195.94,416.16 199.15,415.3 202.36,401.62 205.57,398.37 208.79,395.12 212,385.35 215.21,385.35 218.42,374.51 221.63,364.3 224.85,394.04 228.06,398.37 231.27,411.82 234.48,393.39 237.69,379.92 240.91,372.76 244.12,391.43 247.33,386.44 250.54,386.44 253.75,379.92 256.97,364.3 260.18,387.96 263.39,387.52 266.6,381.44 269.81,377.32 273.03,410.3 276.24,372.76 279.45,369.51 282.66,398.81 285.87,384.92 289.09,383.19 292.3,381.44 295.51,372.76 298.72,408.79 301.93,382.75 305.15,382.1 308.36,407.49 311.57,407.49 314.78,391.87 317.99,383.19 321.21,381.44 324.42,399.89 327.63,395.12 330.84,392.94 334.05,384.92 337.27,381.67 340.48,385.79 343.69,388.61 346.9,390.13 350.11,392.94 353.33,377.76 356.54,374.51 359.75,373.42 362.96,366.26 366.17,413.12 369.39,384.92 372.6,378.84 375.81,374.51 379.02,374.51 382.23,371.25 385.45,400.1 388.66,384.92 391.87,383.61 395.08,383.19 398.29,376.67 401.51,367.57 404.72,410.3 407.93,389.69 411.14,379.92 414.35,368.65 417.57,407.05 420.78,397.29 423.99,369.09 427.2,391.87 430.41,381.44 433.63,365.18 436.84,372.76 440.05,372.76 443.26,375.15 446.47,387.96 449.69,371.25 452.9,369.09 456.11,367.34 459.32,379.92 462.53,411.82 465.75,377.76 468.96,395.12 472.17,386.44 475.38,371.25 478.59,359.32 481.81,418.55 485.02,374.51 488.23,367.99 491.44,378.19 494.65,405.31 497.87,369.51 501.08,391.87 504.29,356.07 507.5,372.99 510.71,378.19 513.93,361.05 517.14,352.81 520.35,393.39 523.56,367.99 526.77,390.35 529.99,357.59" fill="none" stroke="#ef8a66" stroke-width="1.1" stroke-opacity="0.7" stroke-linejoin="round"/>
<circle cx="38.55" cy="411.82" r="1.7" fill="#ef8a66"/>
<circle cx="41.76" cy="411.82" r="1.7" fill="#ef8a66"/>
<circle cx="44.97" cy="413.57" r="1.7" fill="#ef8a66"/>
<circle cx="48.19" cy="414.64" r="1.7" fill="#ef8a66"/>
<circle cx="51.4" cy="411.82" r="1.7" fill="#ef8a66"/>
<circle cx="54.61" cy="407.05" r="1.7" fill="#ef8a66"/>
<circle cx="57.82" cy="413.99" r="1.7" fill="#ef8a66"/>
<circle cx="61.03" cy="391.87" r="1.7" fill="#ef8a66"/>
<circle cx="64.25" cy="427.67" r="1.7" fill="#ef8a66"/>
<circle cx="67.46" cy="411.82" r="1.7" fill="#ef8a66"/>
<circle cx="70.67" cy="387.96" r="1.7" fill="#ef8a66"/>
<circle cx="73.88" cy="387.96" r="1.7" fill="#ef8a66"/>
<circle cx="77.09" cy="408.57" r="1.7" fill="#ef8a66"/>
<circle cx="80.31" cy="434.61" r="1.7" fill="#ef8a66"/>
<circle cx="83.52" cy="403.14" r="1.7" fill="#ef8a66"/>
<circle cx="86.73" cy="401.62" r="1.7" fill="#ef8a66"/>
<circle cx="89.94" cy="415.72" r="1.7" fill="#ef8a66"/>
<circle cx="93.15" cy="408.57" r="1.7" fill="#ef8a66"/>
<circle cx="96.37" cy="407.05" r="1.7" fill="#ef8a66"/>
<circle cx="99.58" cy="400.54" r="1.7" fill="#ef8a66"/>
<circle cx="102.79" cy="400.1" r="1.7" fill="#ef8a66"/>
<circle cx="106" cy="381.67" r="1.7" fill="#ef8a66"/>
<circle cx="109.21" cy="413.99" r="1.7" fill="#ef8a66"/>
<circle cx="112.43" cy="405.31" r="1.7" fill="#ef8a66"/>
<circle cx="115.64" cy="392.94" r="1.7" fill="#ef8a66"/>
<circle cx="118.85" cy="377.76" r="1.7" fill="#ef8a66"/>
<circle cx="122.06" cy="405.31" r="1.7" fill="#ef8a66"/>
<circle cx="125.27" cy="395.12" r="1.7" fill="#ef8a66"/>
<circle cx="128.49" cy="392.94" r="1.7" fill="#ef8a66"/>
<circle cx="131.7" cy="390.13" r="1.7" fill="#ef8a66"/>
<circle cx="134.91" cy="389.69" r="1.7" fill="#ef8a66"/>
<circle cx="138.12" cy="425.49" r="1.7" fill="#ef8a66"/>
<circle cx="141.33" cy="404.87" r="1.7" fill="#ef8a66"/>
<circle cx="144.55" cy="398.37" r="1.7" fill="#ef8a66"/>
<circle cx="147.76" cy="395.12" r="1.7" fill="#ef8a66"/>
<circle cx="150.97" cy="383.19" r="1.7" fill="#ef8a66"/>
<circle cx="154.18" cy="381.44" r="1.7" fill="#ef8a66"/>
<circle cx="157.39" cy="398.37" r="1.7" fill="#ef8a66"/>
<circle cx="160.61" cy="393.39" r="1.7" fill="#ef8a66"/>
<circle cx="163.82" cy="402.27" r="1.7" fill="#ef8a66"/>
<circle cx="167.03" cy="417.47" r="1.7" fill="#ef8a66"/>
<circle cx="170.24" cy="410.3" r="1.7" fill="#ef8a66"/>
<circle cx="173.45" cy="407.05" r="1.7" fill="#ef8a66"/>
<circle cx="176.67" cy="404.87" r="1.7" fill="#ef8a66"/>
<circle cx="179.88" cy="413.99" r="1.7" fill="#ef8a66"/>
<circle cx="183.09" cy="402.27" r="1.7" fill="#ef8a66"/>
<circle cx="186.3" cy="391.43" r="1.7" fill="#ef8a66"/>
<circle cx="189.51" cy="391.43" r="1.7" fill="#ef8a66"/>
<circle cx="192.73" cy="383.19" r="1.7" fill="#ef8a66"/>
<circle cx="195.94" cy="416.16" r="1.7" fill="#ef8a66"/>
<circle cx="199.15" cy="415.3" r="1.7" fill="#ef8a66"/>
<circle cx="202.36" cy="401.62" r="1.7" fill="#ef8a66"/>
<circle cx="205.57" cy="398.37" r="1.7" fill="#ef8a66"/>
<circle cx="208.79" cy="395.12" r="1.7" fill="#ef8a66"/>
<circle cx="212" cy="385.35" r="1.7" fill="#ef8a66"/>
<circle cx="215.21" cy="385.35" r="1.7" fill="#ef8a66"/>
<circle cx="218.42" cy="374.51" r="1.7" fill="#ef8a66"/>
<circle cx="221.63" cy="364.3" r="1.7" fill="#ef8a66"/>
<circle cx="224.85" cy="394.04" r="1.7" fill="#ef8a66"/>
<circle cx="228.06" cy="398.37" r="1.7" fill="#ef8a66"/>
<circle cx="231.27" cy="411.82" r="1.7" fill="#ef8a66"/>
<circle cx="234.48" cy="393.39" r="1.7" fill="#ef8a66"/>
<circle cx="237.69" cy="379.92" r="1.7" fill="#ef8a66"/>
<circle cx="240.91" cy="372.76" r="1.7" fill="#ef8a66"/>
<circle cx="244.12" cy="391.43" r="1.7" fill="#ef8a66"/>
<circle cx="247.33" cy="386.44" r="1.7" fill="#ef8a66"/>
<circle cx="250.54" cy="386.44" r="1.7" fill="#ef8a66"/>
<circle cx="253.75" cy="379.92" r="1.7" fill="#ef8a66"/>
<circle cx="256.97" cy="364.3" r="1.7" fill="#ef8a66"/>
<circle cx="260.18" cy="387.96" r="1.7" fill="#ef8a66"/>
<circle cx="263.39" cy="387.52" r="1.7" fill="#ef8a66"/>
<circle cx="266.6" cy="381.44" r="1.7" fill="#ef8a66"/>
<circle cx="269.81" cy="377.32" r="1.7" fill="#ef8a66"/>
<circle cx="273.03" cy="410.3" r="1.7" fill="#ef8a66"/>
<circle cx="276.24" cy="372.76" r="1.7" fill="#ef8a66"/>
<circle cx="279.45" cy="369.51" r="1.7" fill="#ef8a66"/>
<circle cx="282.66" cy="398.81" r="1.7" fill="#ef8a66"/>
<circle cx="285.87" cy="384.92" r="1.7" fill="#ef8a66"/>
<circle cx="289.09" cy="383.19" r="1.7" fill="#ef8a66"/>
<circle cx="292.3" cy="381.44" r="1.7" fill="#ef8a66"/>
<circle cx="295.51" cy="372.76" r="1.7" fill="#ef8a66"/>
<circle cx="298.72" cy="408.79" r="1.7" fill="#ef8a66"/>
<circle cx="301.93" cy="382.75" r="1.7" fill="#ef8a66"/>
<circle cx="305.15" cy="382.1" r="1.7" fill="#ef8a66"/>
<circle cx="308.36" cy="407.49" r="1.7" fill="#ef8a66"/>
<circle cx="311.57" cy="407.49" r="1.7" fill="#ef8a66"/>
<circle cx="314.78" cy="391.87" r="1.7" fill="#ef8a66"/>
<circle cx="317.99" cy="383.19" r="1.7" fill="#ef8a66"/>
<circle cx="321.21" cy="381.44" r="1.7" fill="#ef8a66"/>
<circle cx="324.42" cy="399.89" r="1.7" fill="#ef8a66"/>
<circle cx="327.63" cy="395.12" r="1.7" fill="#ef8a66"/>
<circle cx="330.84" cy="392.94" r="1.7" fill="#ef8a66"/>
<circle cx="334.05" cy="384.92" r="1.7" fill="#ef8a66"/>
<circle cx="337.27" cy="381.67" r="1.7" fill="#ef8a66"/>
<circle cx="340.48" cy="385.79" r="1.7" fill="#ef8a66"/>
<circle cx="343.69" cy="388.61" r="1.7" fill="#ef8a66"/>
<circle cx="346.9" cy="390.13" r="1.7" fill="#ef8a66"/>
<circle cx="350.11" cy="392.94" r="1.7" fill="#ef8a66"/>
<circle cx="353.33" cy="377.76" r="1.7" fill="#ef8a66"/>
<circle cx="356.54" cy="374.51" r="1.7" fill="#ef8a66"/>
<circle cx="359.75" cy="373.42" r="1.7" fill="#ef8a66"/>
<circle cx="362.96" cy="366.26" r="1.7" fill="#ef8a66"/>
<circle cx="366.17" cy="413.12" r="1.7" fill="#ef8a66"/>
<circle cx="369.39" cy="384.92" r="1.7" fill="#ef8a66"/>
<circle cx="372.6" cy="378.84" r="1.7" fill="#ef8a66"/>
<circle cx="375.81" cy="374.51" r="1.7" fill="#ef8a66"/>
<circle cx="379.02" cy="374.51" r="1.7" fill="#ef8a66"/>
<circle cx="382.23" cy="371.25" r="1.7" fill="#ef8a66"/>
<circle cx="385.45" cy="400.1" r="1.7" fill="#ef8a66"/>
<circle cx="388.66" cy="384.92" r="1.7" fill="#ef8a66"/>
<circle cx="391.87" cy="383.61" r="1.7" fill="#ef8a66"/>
<circle cx="395.08" cy="383.19" r="1.7" fill="#ef8a66"/>
<circle cx="398.29" cy="376.67" r="1.7" fill="#ef8a66"/>
<circle cx="401.51" cy="367.57" r="1.7" fill="#ef8a66"/>
<circle cx="404.72" cy="410.3" r="1.7" fill="#ef8a66"/>
<circle cx="407.93" cy="389.69" r="1.7" fill="#ef8a66"/>
<circle cx="411.14" cy="379.92" r="1.7" fill="#ef8a66"/>
<circle cx="414.35" cy="368.65" r="1.7" fill="#ef8a66"/>
<circle cx="417.57" cy="407.05" r="1.7" fill="#ef8a66"/>
<circle cx="420.78" cy="397.29" r="1.7" fill="#ef8a66"/>
<circle cx="423.99" cy="369.09" r="1.7" fill="#ef8a66"/>
<circle cx="427.2" cy="391.87" r="1.7" fill="#ef8a66"/>
<circle cx="430.41" cy="381.44" r="1.7" fill="#ef8a66"/>
<circle cx="433.63" cy="365.18" r="1.7" fill="#ef8a66"/>
<circle cx="436.84" cy="372.76" r="1.7" fill="#ef8a66"/>
<circle cx="440.05" cy="372.76" r="1.7" fill="#ef8a66"/>
<circle cx="443.26" cy="375.15" r="1.7" fill="#ef8a66"/>
<circle cx="446.47" cy="387.96" r="1.7" fill="#ef8a66"/>
<circle cx="449.69" cy="371.25" r="1.7" fill="#ef8a66"/>
<circle cx="452.9" cy="369.09" r="1.7" fill="#ef8a66"/>
<circle cx="456.11" cy="367.34" r="1.7" fill="#ef8a66"/>
<circle cx="459.32" cy="379.92" r="1.7" fill="#ef8a66"/>
<circle cx="462.53" cy="411.82" r="1.7" fill="#ef8a66"/>
<circle cx="465.75" cy="377.76" r="1.7" fill="#ef8a66"/>
<circle cx="468.96" cy="395.12" r="1.7" fill="#ef8a66"/>
<circle cx="472.17" cy="386.44" r="1.7" fill="#ef8a66"/>
<circle cx="475.38" cy="371.25" r="1.7" fill="#ef8a66"/>
<circle cx="478.59" cy="359.32" r="1.7" fill="#ef8a66"/>
<circle cx="481.81" cy="418.55" r="1.7" fill="#ef8a66"/>
<circle cx="485.02" cy="374.51" r="1.7" fill="#ef8a66"/>
<circle cx="488.23" cy="367.99" r="1.7" fill="#ef8a66"/>
<circle cx="491.44" cy="378.19" r="1.7" fill="#ef8a66"/>
<circle cx="494.65" cy="405.31" r="1.7" fill="#ef8a66"/>
<circle cx="497.87" cy="369.51" r="1.7" fill="#ef8a66"/>
<circle cx="501.08" cy="391.87" r="1.7" fill="#ef8a66"/>
<circle cx="504.29" cy="356.07" r="1.7" fill="#ef8a66"/>
<circle cx="507.5" cy="372.99" r="1.7" fill="#ef8a66"/>
<circle cx="510.71" cy="378.19" r="1.7" fill="#ef8a66"/>
<circle cx="513.93" cy="361.05" r="1.7" fill="#ef8a66"/>
<circle cx="517.14" cy="352.81" r="1.7" fill="#ef8a66"/>
<circle cx="520.35" cy="393.39" r="1.7" fill="#ef8a66"/>
<circle cx="523.56" cy="367.99" r="1.7" fill="#ef8a66"/>
<circle cx="526.77" cy="390.35" r="1.7" fill="#ef8a66"/>
<circle cx="529.99" cy="357.59" r="1.7" fill="#ef8a66"/>
</g>
<rect x="36.89" y="348.2" width="499.27" height="96.8" fill="none" stroke="#000" stroke-opacity="0.6" stroke-width="0.8"/>
<line x1="34.89" x2="36.89" y1="432.4" y2="432.4" stroke="#000" stroke-opacity="0.6" stroke-width="0.8"/>
<text x="33.39" y="434.55" font-size="6.0" text-anchor="end">0.5</text>
<line x1="34.89" x2="36.89" y1="416.06" y2="416.06" stroke="#000" stroke-opacity="0.6" stroke-width="0.8"/>
<text x="33.39" y="418.21" font-size="6.0" text-anchor="end">0.6</text>
<line x1="34.89" x2="36.89" y1="399.72" y2="399.72" stroke="#000" stroke-opacity="0.6" stroke-width="0.8"/>
<text x="33.39" y="401.87" font-size="6.0" text-anchor="end">0.7</text>
<line x1="34.89" x2="36.89" y1="383.38" y2="383.38" stroke="#000" stroke-opacity="0.6" stroke-width="0.8"/>
<text x="33.39" y="385.53" font-size="6.0" text-anchor="end">0.8</text>
<line x1="34.89" x2="36.89" y1="367.04" y2="367.04" stroke="#000" stroke-opacity="0.6" stroke-width="0.8"/>
<text x="33.39" y="369.19" font-size="6.0" text-anchor="end">0.9</text>
<line x1="34.89" x2="36.89" y1="350.7" y2="350.7" stroke="#000" stroke-opacity="0.6" stroke-width="0.8"/>
<text x="33.39" y="352.85" font-size="6.0" text-anchor="end">1.0</text>
<line x1="38.3" x2="38.3" y1="445" y2="447" stroke="#000" stroke-opacity="0.6" stroke-width="0.8"/>
<text x="38.3" y="453.9" font-size="5.95" text-anchor="middle">0</text>
<line x1="102.54" x2="102.54" y1="445" y2="447" stroke="#000" stroke-opacity="0.6" stroke-width="0.8"/>
<text x="102.54" y="453.9" font-size="5.95" text-anchor="middle">20</text>
<line x1="166.78" x2="166.78" y1="445" y2="447" stroke="#000" stroke-opacity="0.6" stroke-width="0.8"/>
<text x="166.78" y="453.9" font-size="5.95" text-anchor="middle">40</text>
<line x1="231.02" x2="231.02" y1="445" y2="447" stroke="#000" stroke-opacity="0.6" stroke-width="0.8"/>
<text x="231.02" y="453.9" font-size="5.95" text-anchor="middle">60</text>
<line x1="295.26" x2="295.26" y1="445" y2="447" stroke="#000" stroke-opacity="0.6" stroke-width="0.8"/>
<text x="295.26" y="453.9" font-size="5.95" text-anchor="middle">80</text>
<line x1="359.5" x2="359.5" y1="445" y2="447" stroke="#000" stroke-opacity="0.6" stroke-width="0.8"/>
<text x="359.5" y="453.9" font-size="5.95" text-anchor="middle">100</text>
<line x1="423.74" x2="423.74" y1="445" y2="447" stroke="#000" stroke-opacity="0.6" stroke-width="0.8"/>
<text x="423.74" y="453.9" font-size="5.95" text-anchor="middle">120</text>
<line x1="487.98" x2="487.98" y1="445" y2="447" stroke="#000" stroke-opacity="0.6" stroke-width="0.8"/>
<text x="487.98" y="453.9" font-size="5.95" text-anchor="middle">140</text>
<text transform="translate(20.3,396.6) rotate(-90)" font-size="6.1" font-weight="bold" text-anchor="middle">Accuracy</text>
<rect x="36.89" y="348.2" width="69.35" height="12" fill="#fff" stroke="#000" stroke-opacity="0.8" stroke-width="0.8"/>
<text transform="translate(40.69,357.7) scale(1,1.05)" font-size="8.3" textLength="62.85" lengthAdjust="spacingAndGlyphs" style="font-family:Carlito,'Liberation Sans',sans-serif;stroke-width:0.08px">8 Seconds, Implicit</text>
<text x="286.53" y="462.5" font-size="5.9" font-weight="bold" text-anchor="middle">Sorted Participants</text>
<rect x="232.3" y="9.2" width="82" height="19.9" rx="1.2" fill="#fff" fill-opacity="0.8" stroke="#d8d8d8" stroke-width="0.5"/>
<line x1="234.8" x2="247.6" y1="14.3" y2="14.3" stroke="#1f77b4" stroke-width="1.1" stroke-opacity="0.75"/>
<circle cx="241.2" cy="14.3" r="1.7" fill="#1f77b4"/>
<text transform="translate(252,16.9) scale(1,1.1)" font-size="7.2" textLength="54.36" lengthAdjust="spacingAndGlyphs" style="font-family:Carlito,'Liberation Sans',sans-serif;stroke-width:0.1px">person-dependent</text>
<line x1="234.8" x2="247.6" y1="23.3" y2="23.3" stroke="#ef8a66" stroke-width="1.1" stroke-opacity="0.75"/>
<circle cx="241.2" cy="23.3" r="1.7" fill="#ef8a66"/>
<text transform="translate(252,25.9) scale(1,1.1)" font-size="7.2" textLength="59.8" lengthAdjust="spacingAndGlyphs" style="font-family:Carlito,'Liberation Sans',sans-serif;stroke-width:0.1px">person-independent</text>
</svg></body></html>
